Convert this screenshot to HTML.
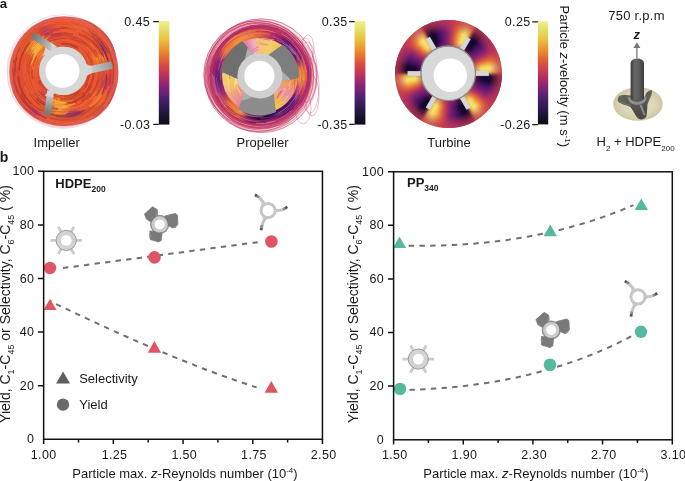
<!DOCTYPE html>
<html><head><meta charset="utf-8">
<style>
html,body{margin:0;padding:0;background:#fff;}
body{width:685px;height:481px;overflow:hidden;position:relative;}
svg{position:absolute;left:0;top:0;}

.cfd{position:absolute;border-radius:50%;}
#turbw{left:394.8px;top:20.2px;width:106.8px;height:108px;overflow:hidden;}
#turb{position:absolute;left:-5px;top:-5px;right:-5px;bottom:-5px;filter:blur(1.6px);
background:repeating-conic-gradient(from 30deg, #2a0845 0deg, #0c0620 9deg, #3e0e60 16deg, #6a1a70 24deg, #a02c68 32deg, #d04a48 37deg, #ec7a30 42deg, #f4c050 47deg, #f2f080 52deg, #f4cc50 56deg, #f0a040 60deg);}
#turb2{left:394.8px;top:20.2px;width:106.8px;height:108px;
background:radial-gradient(closest-side, rgba(160,40,100,0.5) 0%, rgba(160,40,100,0.4) 52%, rgba(160,40,100,0) 62%, rgba(194,56,82,0) 78%, rgba(194,56,82,0.35) 86%, rgba(194,56,82,0.65) 93%, rgba(196,58,80,0.85) 100%);}

#propo{left:203.4px;top:19.4px;width:113px;height:113px;
background:radial-gradient(closest-side, rgba(190,45,95,0.7) 0%, rgba(190,45,95,0.6) 84%, rgba(200,60,105,0.3) 91%, rgba(210,90,130,0.05) 100%);}
#propbw{left:211.4px;top:27.4px;width:97px;height:97px;overflow:hidden;}
#propb{position:absolute;left:-5px;top:-5px;right:-5px;bottom:-5px;filter:blur(1.5px);
background:radial-gradient(closest-side, rgba(200,50,100,0) 0%, rgba(200,50,100,0) 82%, rgba(196,50,100,0.45) 95%, rgba(196,50,100,0.6) 100%),
conic-gradient(#e06038 0deg, #b02a6a 20deg, #5a1272 40deg, #6a1670 65deg, #e87a30 82deg, #f09a30 95deg, #c03a60 110deg, #5a1476 125deg, #3a0c5a 160deg, #1e0838 180deg, #6a1a60 195deg, #f08a30 207deg, #e86a34 225deg, #9a2a70 245deg, #6a1a78 265deg, #8a2470 290deg, #e86a30 305deg, #f28a30 330deg, #e8703a 350deg, #e06038 360deg);}
#propg{left:221.9px;top:37.9px;width:76px;height:76px;
background:conic-gradient(#f4c070 0deg, #f2d060 18deg, #f0c050 36deg, #f09040 93deg, #f0a060 108deg, #ec90a0 124deg, #f0b050 140deg, #f4c850 156deg, #e880a0 213deg, #f0a080 235deg, #f4c858 255deg, #f2d060 276deg, #e8a0b0 300deg, #e070a0 333deg, #f0b0c0 350deg, #f4c070 360deg);}
text{font-family:"Liberation Sans",Arial,sans-serif;fill:#1a1a1a;}
</style></head>
<body>
<div class="cfd" id="propo"></div>
<div class="cfd" id="propbw"><div id="propb"></div></div>
<div class="cfd" id="propg"></div>
<div class="cfd" id="turbw"><div id="turb"></div></div>
<div class="cfd" id="turb2"></div>
<svg width="685" height="481" viewBox="0 0 685 481">
<defs>
<linearGradient id="inferno" x1="0" y1="1" x2="0" y2="0">
<stop offset="0" stop-color="#100a18"/><stop offset="0.05" stop-color="#161024"/><stop offset="0.14" stop-color="#281a48"/><stop offset="0.24" stop-color="#442068"/><stop offset="0.33" stop-color="#742278"/><stop offset="0.43" stop-color="#a42a6c"/><stop offset="0.51" stop-color="#c83a52"/><stop offset="0.57" stop-color="#d44a44"/><stop offset="0.65" stop-color="#e46c30"/><stop offset="0.72" stop-color="#ea9030"/><stop offset="0.82" stop-color="#eac040"/><stop offset="0.92" stop-color="#e4e068"/><stop offset="1" stop-color="#f0f090"/>
</linearGradient>
</defs>


<!-- IMPELLER -->
<clipPath id="impclip"><path d="M63.6,16.8 C95,16.5 113,35 116.5,58 C118.5,66 119.5,80 115,92 C108,115 88,126 63,126 C35,126 9,104 9.5,71 C10,44 30,17 63.6,16.8Z"/></clipPath>
<filter id="bl3" x="-50%" y="-50%" width="200%" height="200%"><feGaussianBlur stdDeviation="2.5"/></filter>
<g clip-path="url(#impclip)">
<rect x="0" y="10" width="125" height="125" fill="#e0542f"/>
<g filter="url(#bl3)">
<ellipse cx="37" cy="49" rx="8" ry="10" fill="#f3a034" transform="rotate(0 37 49)"/>
<ellipse cx="36" cy="46" rx="4" ry="5" fill="#f8c848" transform="rotate(0 36 46)"/>
<ellipse cx="100" cy="59" rx="7" ry="4.5" fill="#f08c30" transform="rotate(0 100 59)"/>
<ellipse cx="60" cy="107" rx="10" ry="8" fill="#f4a034" transform="rotate(0 60 107)"/>
<ellipse cx="56" cy="107" rx="4.5" ry="5" fill="#f8c440" transform="rotate(0 56 107)"/>
<ellipse cx="98" cy="98" rx="6" ry="7" fill="#ec7634" transform="rotate(0 98 98)"/>
<ellipse cx="80" cy="27" rx="14" ry="5" fill="#e45c38" transform="rotate(-10 80 27)"/>
<ellipse cx="52" cy="31" rx="10" ry="4" fill="#d0404e" transform="rotate(25 52 31)"/>
<ellipse cx="20" cy="80" rx="5" ry="18" fill="#de4e38" transform="rotate(0 20 80)"/>
<ellipse cx="108" cy="84" rx="5" ry="10" fill="#cd3c50" transform="rotate(0 108 84)"/>
<ellipse cx="102" cy="47" rx="1.5" ry="9" fill="#6a1a70" transform="rotate(-30 102 47)"/>
<ellipse cx="45" cy="32.5" rx="5" ry="2" fill="#7a1e6e" transform="rotate(20 45 32.5)"/>
<ellipse cx="73" cy="114.5" rx="8" ry="2.2" fill="#5a1a80" transform="rotate(-5 73 114.5)"/>
<ellipse cx="44" cy="99" rx="1.8" ry="8" fill="#a02870" transform="rotate(-10 44 99)"/>
<ellipse cx="35" cy="112" rx="4" ry="2" fill="#8a2470" transform="rotate(30 35 112)"/>
<ellipse cx="105" cy="80" rx="2" ry="6" fill="#b03a60" transform="rotate(10 105 80)"/>
</g>
<g fill="none" opacity="0.8"><path d="M54.8,102.1A32.1,32.1 0 0 1 39.4,92.2" stroke="#d1484d" stroke-width="1.1"/><path d="M40.2,34.9A43.2,43.2 0 0 1 59.5,29.0" stroke="#cf3f54" stroke-width="1.5"/><path d="M30.1,51.0A39.1,39.1 0 0 1 44.4,35.9" stroke="#ffc848" stroke-width="0.8"/><path d="M50.3,44.8A29.5,29.5 0 0 1 68.9,41.6" stroke="#b33429" stroke-width="0.7"/><path d="M37.7,111.3A47.7,47.7 0 0 1 24.5,100.3" stroke="#b1332b" stroke-width="0.8"/><path d="M43.0,33.6A42.8,42.8 0 0 1 60.9,27.2" stroke="#df4959" stroke-width="1.0"/><path d="M80.3,117.3A49.0,49.0 0 0 1 51.0,117.3" stroke="#ce4f2d" stroke-width="0.7"/><path d="M56.8,40.4A31.5,31.5 0 0 1 76.7,41.4" stroke="#f35b36" stroke-width="1.0"/><path d="M41.2,115.9A50.0,50.0 0 0 1 24.1,102.3" stroke="#b33a51" stroke-width="1.4"/><path d="M44.0,30.2A45.5,45.5 0 0 1 71.8,26.0" stroke="#eb5635" stroke-width="0.7"/><path d="M52.4,21.6A50.8,50.8 0 0 1 81.0,24.7" stroke="#ed5832" stroke-width="1.2"/><path d="M60.3,27.3A44.0,44.0 0 0 1 76.2,30.4" stroke="#b4362c" stroke-width="1.4"/><path d="M92.5,24.7A54.7,54.7 0 0 1 112.2,43.7" stroke="#e25430" stroke-width="0.6"/><path d="M82.8,103.8A37.8,37.8 0 0 1 70.4,108.8" stroke="#ee5d32" stroke-width="0.6"/><path d="M104.3,93.9A46.6,46.6 0 0 1 83.4,113.3" stroke="#d2572d" stroke-width="1.5"/><path d="M79.5,40.8A34.3,34.3 0 0 1 96.3,57.0" stroke="#b33429" stroke-width="1.5"/><path d="M97.2,74.0A33.7,33.7 0 0 1 86.1,95.7" stroke="#f46237" stroke-width="0.9"/><path d="M41.3,52.4A29.1,29.1 0 0 1 57.0,42.7" stroke="#f66c37" stroke-width="1.2"/><path d="M48.0,111.1A42.9,42.9 0 0 1 29.4,97.0" stroke="#f46137" stroke-width="1.0"/><path d="M110.1,67.6A46.6,46.6 0 0 1 108.3,84.6" stroke="#c4413b" stroke-width="1.1"/><path d="M76.5,93.0A25.3,25.3 0 0 1 54.6,94.5" stroke="#b53b29" stroke-width="1.1"/><path d="M42.0,90.6A29.0,29.0 0 0 1 34.3,74.7" stroke="#cf4d2c" stroke-width="0.9"/><path d="M17.5,74.7A46.2,46.2 0 0 1 16.7,63.0" stroke="#b2322c" stroke-width="0.6"/><path d="M37.6,96.2A36.1,36.1 0 0 1 29.6,81.5" stroke="#ed5832" stroke-width="0.9"/><path d="M88.8,94.6A34.4,34.4 0 0 1 68.8,106.1" stroke="#d04e2c" stroke-width="0.7"/><path d="M54.8,22.6A49.4,49.4 0 0 1 79.2,24.9" stroke="#c4392d" stroke-width="0.8"/><path d="M112.6,67.7A49.1,49.1 0 0 1 111.8,82.5" stroke="#dd4e37" stroke-width="0.7"/><path d="M50.1,30.4A43.0,43.0 0 0 1 74.5,29.8" stroke="#c3392f" stroke-width="1.4"/><path d="M89.3,86.8A30.1,30.1 0 0 1 70.1,100.4" stroke="#ed5832" stroke-width="0.8"/><path d="M58.3,99.3A28.6,28.6 0 0 1 44.4,93.7" stroke="#f66b37" stroke-width="1.1"/><path d="M106.6,98.5A50.9,50.9 0 0 1 86.5,117.7" stroke="#b43629" stroke-width="0.9"/><path d="M91.5,78.7A28.9,28.9 0 0 1 73.9,98.1" stroke="#cf4d2c" stroke-width="1.2"/><path d="M49.6,101.9A33.7,33.7 0 0 1 40.7,94.5" stroke="#a2296d" stroke-width="0.6"/><path d="M27.1,32.4A53.3,53.3 0 0 1 54.6,18.5" stroke="#df5133" stroke-width="1.5"/><path d="M73.0,25.6A46.5,46.5 0 0 1 91.7,33.5" stroke="#f5683e" stroke-width="1.1"/><path d="M91.9,89.4A33.7,33.7 0 0 1 81.3,101.1" stroke="#b43529" stroke-width="1.5"/><path d="M92.2,70.2A28.6,28.6 0 0 1 90.8,81.9" stroke="#f46037" stroke-width="1.4"/><path d="M33.0,29.3A51.9,51.9 0 0 1 53.7,20.3" stroke="#b1322e" stroke-width="0.7"/><path d="M103.6,68.4A40.1,40.1 0 0 1 102.5,79.7" stroke="#de4e42" stroke-width="1.4"/><path d="M100.0,94.7A43.4,43.4 0 0 1 89.0,106.5" stroke="#fb7a3a" stroke-width="1.3"/><path d="M90.0,66.3A26.8,26.8 0 0 1 88.0,79.3" stroke="#f46037" stroke-width="0.8"/><path d="M42.4,45.7A33.2,33.2 0 0 1 54.3,39.3" stroke="#b53929" stroke-width="1.1"/><path d="M26.6,69.7A37.0,37.0 0 0 1 30.6,54.2" stroke="#ee5c32" stroke-width="1.0"/><path d="M25.0,64.7A39.2,39.2 0 0 1 27.5,53.9" stroke="#b43629" stroke-width="0.6"/><path d="M66.5,97.5A26.5,26.5 0 0 1 55.4,95.1" stroke="#f97436" stroke-width="1.1"/><path d="M95.3,84.8A34.5,34.5 0 0 1 83.9,98.6" stroke="#f56235" stroke-width="0.9"/><path d="M61.1,38.3A32.9,32.9 0 0 1 80.2,42.5" stroke="#c3392d" stroke-width="1.2"/><path d="M81.1,39.3A36.4,36.4 0 0 1 92.1,48.8" stroke="#cf4d2c" stroke-width="1.2"/><path d="M32.4,98.1A41.2,41.2 0 0 1 27.2,87.6" stroke="#e15330" stroke-width="1.2"/><path d="M107.5,90.2A47.8,47.8 0 0 1 87.6,112.4" stroke="#e76832" stroke-width="0.8"/><path d="M24.9,85.1A41.1,41.1 0 0 1 23.4,72.9" stroke="#df4f35" stroke-width="0.7"/><path d="M86.6,83.0A25.8,25.8 0 0 1 61.1,97.8" stroke="#ed5832" stroke-width="0.8"/><path d="M90.8,43.4A38.9,38.9 0 0 1 103.4,67.7" stroke="#fa7734" stroke-width="1.1"/><path d="M86.5,43.0A36.3,36.3 0 0 1 95.8,57.3" stroke="#ed5832" stroke-width="1.1"/><path d="M83.3,55.6A25.1,25.1 0 0 1 86.9,81.0" stroke="#b33429" stroke-width="1.1"/><path d="M95.1,103.0A44.8,44.8 0 0 1 71.0,116.4" stroke="#c64931" stroke-width="0.7"/><path d="M19.0,94.5A50.3,50.3 0 0 1 13.2,67.3" stroke="#ce4b2e" stroke-width="1.3"/><path d="M37.7,68.4A26.1,26.1 0 0 1 48.5,50.9" stroke="#fa7936" stroke-width="1.1"/><path d="M54.4,97.6A28.0,28.0 0 0 1 38.1,83.3" stroke="#e1534a" stroke-width="1.3"/><path d="M92.8,57.4A32.3,32.3 0 0 1 96.4,73.1" stroke="#ef6132" stroke-width="1.4"/><path d="M44.5,97.6A32.6,32.6 0 0 1 31.3,71.9" stroke="#ed5832" stroke-width="0.7"/><path d="M56.9,31.8A40.0,40.0 0 0 1 76.5,31.8" stroke="#f45e38" stroke-width="1.0"/><path d="M43.4,108.1A42.1,42.1 0 0 1 24.3,86.0" stroke="#f45c34" stroke-width="1.2"/><path d="M105.5,40.5A51.9,51.9 0 0 1 111.7,51.8" stroke="#f45c34" stroke-width="1.2"/><path d="M35.9,117.0A53.5,53.5 0 0 1 17.1,96.3" stroke="#c3382d" stroke-width="0.8"/><path d="M102.7,88.1A42.6,42.6 0 0 1 94.0,101.1" stroke="#fc7a39" stroke-width="1.3"/><path d="M28.0,43.5A45.1,45.1 0 0 1 46.1,29.3" stroke="#f06633" stroke-width="0.8"/><path d="M68.2,40.0A31.5,31.5 0 0 1 85.7,50.0" stroke="#e15330" stroke-width="1.1"/><path d="M67.1,103.2A32.2,32.2 0 0 1 39.9,95.1" stroke="#ed8735" stroke-width="1.0"/><path d="M72.2,113.3A43.0,43.0 0 0 1 44.6,110.3" stroke="#fb963e" stroke-width="0.6"/><path d="M87.7,22.0A54.8,54.8 0 0 1 110.5,41.6" stroke="#f46037" stroke-width="1.5"/><path d="M102.3,66.2A39.0,39.0 0 0 1 101.9,82.1" stroke="#eb563e" stroke-width="0.7"/><path d="M95.1,72.0A31.5,31.5 0 0 1 81.5,96.3" stroke="#f46137" stroke-width="0.8"/><path d="M27.8,42.1A46.1,46.1 0 0 1 52.3,27.5" stroke="#bf4737" stroke-width="0.6"/><path d="M80.1,45.5A30.5,30.5 0 0 1 92.7,68.2" stroke="#b43629" stroke-width="1.4"/><path d="M90.1,92.2A33.8,33.8 0 0 1 71.0,103.6" stroke="#f45c34" stroke-width="0.6"/><path d="M87.6,96.6A34.9,34.9 0 0 1 77.2,103.7" stroke="#f45c34" stroke-width="1.5"/><path d="M53.5,106.5A36.7,36.7 0 0 1 42.3,99.5" stroke="#c14d3d" stroke-width="1.0"/><path d="M57.0,108.8A38.2,38.2 0 0 1 41.5,103.9" stroke="#f37e38" stroke-width="0.9"/><path d="M15.5,69.0A48.2,48.2 0 0 1 18.8,52.3" stroke="#f35b36" stroke-width="1.4"/><path d="M94.5,32.5A49.5,49.5 0 0 1 111.6,57.1" stroke="#cb4b2e" stroke-width="1.1"/><path d="M64.7,99.6A28.4,28.4 0 0 1 47.9,94.1" stroke="#fb7c37" stroke-width="1.3"/><path d="M26.1,100.0A47.3,47.3 0 0 1 17.6,76.1" stroke="#c13532" stroke-width="1.4"/><path d="M94.8,39.3A44.7,44.7 0 0 1 109.2,65.5" stroke="#7c1e56" stroke-width="1.2"/><path d="M85.0,110.2A44.5,44.5 0 0 1 68.8,115.3" stroke="#6c1c64" stroke-width="0.9"/><path d="M76.3,43.7A30.3,30.3 0 0 1 92.7,62.4" stroke="#f46037" stroke-width="1.1"/><path d="M85.2,41.4A36.8,36.8 0 0 1 96.9,53.3" stroke="#b33429" stroke-width="0.6"/><path d="M103.7,70.5A40.1,40.1 0 0 1 96.5,96.1" stroke="#bf423e" stroke-width="1.5"/><path d="M27.8,57.2A38.4,38.4 0 0 1 33.3,45.9" stroke="#eb7f33" stroke-width="0.7"/><path d="M83.0,44.4A33.1,33.1 0 0 1 93.0,53.4" stroke="#f46037" stroke-width="0.7"/><path d="M44.8,113.1A45.9,45.9 0 0 1 25.2,98.1" stroke="#dd5133" stroke-width="1.3"/><path d="M97.6,45.3A42.8,42.8 0 0 1 105.6,62.6" stroke="#b73c35" stroke-width="0.8"/><path d="M41.3,50.6A30.4,30.4 0 0 1 57.4,42.9" stroke="#d1552c" stroke-width="1.3"/><path d="M47.4,22.1A51.7,51.7 0 0 1 66.0,18.3" stroke="#ed5832" stroke-width="0.9"/><path d="M56.3,110.5A39.9,39.9 0 0 1 34.0,98.8" stroke="#d75056" stroke-width="0.6"/><path d="M40.7,91.7A30.7,30.7 0 0 1 33.8,80.4" stroke="#f36037" stroke-width="1.0"/><path d="M73.6,110.7A40.7,40.7 0 0 1 58.9,110.8" stroke="#df6f41" stroke-width="1.3"/><path d="M46.3,21.3A52.8,52.8 0 0 1 59.1,17.2" stroke="#cf4d2c" stroke-width="1.4"/><path d="M35.6,63.6A29.1,29.1 0 0 1 50.6,46.8" stroke="#bd572c" stroke-width="1.2"/><path d="M64.0,111.4A40.2,40.2 0 0 1 52.9,109.4" stroke="#df9934" stroke-width="1.4"/><path d="M97.9,40.7A45.8,45.8 0 0 1 110.0,66.3" stroke="#a53759" stroke-width="0.6"/><path d="M62.6,43.8A27.4,27.4 0 0 1 89.3,58.4" stroke="#c3392c" stroke-width="1.4"/><path d="M25.5,69.6A38.1,38.1 0 0 1 31.2,49.5" stroke="#b43829" stroke-width="1.0"/><path d="M15.2,85.0A50.4,50.4 0 0 1 12.9,66.1" stroke="#e15231" stroke-width="1.1"/><path d="M33.2,93.5A37.7,37.7 0 0 1 26.6,77.8" stroke="#e15330" stroke-width="1.2"/><path d="M74.2,107.9A38.2,38.2 0 0 1 62.6,108.9" stroke="#d56c2e" stroke-width="0.9"/><path d="M40.3,104.8A40.9,40.9 0 0 1 28.7,94.2" stroke="#b33429" stroke-width="0.8"/><path d="M35.1,49.0A36.1,36.1 0 0 1 53.1,37.6" stroke="#c94d2f" stroke-width="0.8"/><path d="M95.9,53.0A37.1,37.1 0 0 1 100.3,63.7" stroke="#be5429" stroke-width="1.0"/><path d="M38.0,54.6A30.5,30.5 0 0 1 52.8,42.9" stroke="#d76e2e" stroke-width="1.2"/><path d="M78.7,93.0A26.5,26.5 0 0 1 60.5,98.8" stroke="#b43829" stroke-width="1.4"/><path d="M84.3,95.9A32.2,32.2 0 0 1 71.2,102.9" stroke="#d04e2c" stroke-width="0.9"/><path d="M72.8,44.0A28.7,28.7 0 0 1 92.0,61.0" stroke="#cf4d2c" stroke-width="1.4"/><path d="M52.0,23.9A48.7,48.7 0 0 1 72.7,24.1" stroke="#ed5832" stroke-width="1.3"/><path d="M99.9,95.8A43.9,43.9 0 0 1 91.1,105.1" stroke="#fc7938" stroke-width="0.7"/><path d="M90.2,36.8A43.5,43.5 0 0 1 103.7,57.0" stroke="#8c253f" stroke-width="0.6"/><path d="M41.6,86.3A26.6,26.6 0 0 1 39.2,57.8" stroke="#c4392c" stroke-width="1.3"/><path d="M68.3,106.1A35.2,35.2 0 0 1 51.0,102.6" stroke="#ffc841" stroke-width="0.9"/><path d="M49.4,30.4A43.2,43.2 0 0 1 61.9,29.0" stroke="#c7433a" stroke-width="1.0"/><path d="M51.8,109.7A40.2,40.2 0 0 1 32.6,98.8" stroke="#ea5c41" stroke-width="0.8"/><path d="M16.6,76.0A47.2,47.2 0 0 1 22.4,49.0" stroke="#ec5634" stroke-width="0.8"/><path d="M82.1,116.6A49.1,49.1 0 0 1 62.5,120.2" stroke="#eb5a3a" stroke-width="0.8"/><path d="M34.0,76.7A30.1,30.1 0 0 1 38.1,54.1" stroke="#f56235" stroke-width="1.5"/><path d="M86.8,58.8A26.3,26.3 0 0 1 86.4,84.0" stroke="#f46037" stroke-width="1.3"/><path d="M89.6,34.1A45.3,45.3 0 0 1 101.5,44.7" stroke="#dc5444" stroke-width="0.7"/><path d="M76.5,29.8A43.4,43.4 0 0 1 94.5,39.7" stroke="#f46138" stroke-width="0.9"/><path d="M79.4,38.7A36.1,36.1 0 0 1 93.2,51.5" stroke="#b33429" stroke-width="0.9"/><path d="M29.0,54.4A38.5,38.5 0 0 1 39.1,43.3" stroke="#ffc045" stroke-width="0.7"/><path d="M40.9,109.3A44.3,44.3 0 0 1 32.5,101.9" stroke="#c3382d" stroke-width="0.8"/><path d="M58.7,121.5A50.5,50.5 0 0 1 38.8,114.6" stroke="#ed5a32" stroke-width="1.4"/><path d="M73.4,118.7A48.5,48.5 0 0 1 49.7,118.6" stroke="#b3382a" stroke-width="0.7"/><path d="M58.2,46.1A25.7,25.7 0 0 1 72.6,48.4" stroke="#cf4d2c" stroke-width="1.0"/><path d="M35.8,56.0A31.7,31.7 0 0 1 53.4,41.2" stroke="#ff9039" stroke-width="1.2"/><path d="M90.0,108.9A46.0,46.0 0 0 1 67.1,115.9" stroke="#a23b6a" stroke-width="1.4"/><path d="M24.3,54.2A42.8,42.8 0 0 1 33.7,42.6" stroke="#f37234" stroke-width="0.9"/><path d="M100.8,95.3A44.3,44.3 0 0 1 89.9,105.2" stroke="#fc7e3a" stroke-width="1.1"/><path d="M85.5,112.8A47.1,47.1 0 0 1 62.2,118.3" stroke="#af3f56" stroke-width="0.8"/><path d="M82.8,24.9A50.1,50.1 0 0 1 95.4,34.1" stroke="#e25733" stroke-width="0.8"/><path d="M51.0,44.0A30.0,30.0 0 0 1 76.5,42.9" stroke="#f35f38" stroke-width="1.3"/><path d="M25.8,80.6A38.9,38.9 0 0 1 28.0,52.4" stroke="#cf4c2d" stroke-width="1.4"/><path d="M68.9,124.4A53.5,53.5 0 0 1 42.7,120.3" stroke="#e25430" stroke-width="1.1"/><path d="M56.7,46.1A26.0,26.0 0 0 1 67.7,46.9" stroke="#b33429" stroke-width="0.7"/><path d="M78.7,34.0A40.1,40.1 0 0 1 95.6,45.8" stroke="#c3392c" stroke-width="0.8"/><path d="M95.0,92.5A38.0,38.0 0 0 1 74.6,108.4" stroke="#f45d34" stroke-width="0.7"/><path d="M42.8,39.0A38.3,38.3 0 0 1 61.7,34.0" stroke="#ac2c44" stroke-width="1.3"/><path d="M56.8,25.7A46.0,46.0 0 0 1 86.5,31.7" stroke="#f5613a" stroke-width="0.7"/><path d="M71.5,104.6A34.4,34.4 0 0 1 50.5,102.1" stroke="#ffb43b" stroke-width="1.5"/><path d="M69.8,38.1A33.7,33.7 0 0 1 86.9,45.6" stroke="#cf4d2c" stroke-width="0.9"/><path d="M33.3,59.9A32.3,32.3 0 0 1 38.7,50.1" stroke="#ce5f30" stroke-width="0.7"/><path d="M55.7,46.8A25.6,25.6 0 0 1 66.7,44.9" stroke="#f46037" stroke-width="0.9"/><path d="M104.6,106.3A54.0,54.0 0 0 1 86.6,119.0" stroke="#e25430" stroke-width="0.6"/><path d="M95.9,91.2A38.0,38.0 0 0 1 88.6,101.0" stroke="#f16734" stroke-width="1.0"/><path d="M34.6,86.7A32.9,32.9 0 0 1 31.8,66.3" stroke="#f45c34" stroke-width="0.6"/><path d="M36.4,97.6A37.9,37.9 0 0 1 25.0,75.7" stroke="#f36037" stroke-width="0.8"/><path d="M34.6,69.7A29.1,29.1 0 0 1 47.1,46.3" stroke="#f78335" stroke-width="0.9"/><path d="M66.6,42.3A29.0,29.0 0 0 1 78.1,45.6" stroke="#e15330" stroke-width="1.4"/><path d="M74.2,122.3A52.2,52.2 0 0 1 49.6,122.4" stroke="#f46237" stroke-width="1.1"/><path d="M59.3,108.4A37.4,37.4 0 0 1 46.2,102.9" stroke="#d27036" stroke-width="0.7"/><path d="M93.4,31.1A50.0,50.0 0 0 1 109.6,52.0" stroke="#de5231" stroke-width="1.3"/><path d="M53.8,33.9A38.6,38.6 0 0 1 67.8,33.9" stroke="#c94637" stroke-width="0.6"/><path d="M102.9,66.4A39.6,39.6 0 0 1 100.5,86.5" stroke="#da4c46" stroke-width="0.6"/><path d="M50.6,111.4A42.2,42.2 0 0 1 32.4,101.0" stroke="#ce4e2e" stroke-width="1.3"/><path d="M76.7,101.5A33.0,33.0 0 0 1 64.5,104.3" stroke="#b7412a" stroke-width="1.4"/><path d="M21.4,104.6A53.8,53.8 0 0 1 14.7,91.3" stroke="#cf4b2d" stroke-width="0.9"/><path d="M109.2,91.3A49.8,49.8 0 0 1 101.1,106.0" stroke="#b4382c" stroke-width="0.9"/><path d="M99.6,78.5A36.8,36.8 0 0 1 94.3,91.0" stroke="#cf4d2d" stroke-width="1.4"/><path d="M52.9,32.8A39.9,39.9 0 0 1 78.5,34.1" stroke="#f35d38" stroke-width="1.3"/><path d="M26.8,105.3A50.1,50.1 0 0 1 13.1,81.2" stroke="#b2322c" stroke-width="1.5"/><path d="M82.8,112.8A45.8,45.8 0 0 1 52.6,114.9" stroke="#a63f53" stroke-width="1.1"/><path d="M89.9,68.9A26.4,26.4 0 0 1 75.8,93.4" stroke="#c3392c" stroke-width="1.2"/><path d="M72.9,115.9A45.7,45.7 0 0 1 54.2,114.8" stroke="#a23636" stroke-width="0.6"/><path d="M106.3,49.8A47.8,47.8 0 0 1 109.7,64.1" stroke="#e56140" stroke-width="0.7"/><path d="M96.8,47.7A40.7,40.7 0 0 1 102.0,61.9" stroke="#f97a37" stroke-width="1.0"/><path d="M117.2,81.7A54.6,54.6 0 0 1 112.4,94.4" stroke="#c13730" stroke-width="0.9"/><path d="M31.4,113.5A53.1,53.1 0 0 1 12.5,90.0" stroke="#b3332a" stroke-width="1.5"/><path d="M118.0,69.8A54.4,54.4 0 0 1 114.3,87.4" stroke="#e15331" stroke-width="1.4"/><path d="M24.5,73.8A39.2,39.2 0 0 1 28.3,52.3" stroke="#f36038" stroke-width="1.1"/><path d="M54.4,109.0A38.9,38.9 0 0 1 37.0,99.5" stroke="#c94356" stroke-width="0.9"/><path d="M109.4,84.7A47.7,47.7 0 0 1 94.9,105.9" stroke="#f5663a" stroke-width="1.5"/><path d="M107.3,46.4A50.2,50.2 0 0 1 111.8,62.0" stroke="#c33a2d" stroke-width="1.1"/><path d="M46.0,91.3A26.7,26.7 0 0 1 39.5,78.8" stroke="#e85536" stroke-width="1.4"/><path d="M61.0,22.4A48.8,48.8 0 0 1 85.5,26.9" stroke="#ee5b35" stroke-width="0.8"/><path d="M44.7,105.2A38.9,38.9 0 0 1 31.4,93.6" stroke="#ed5832" stroke-width="0.9"/><path d="M92.3,99.4A40.2,40.2 0 0 1 78.0,109.4" stroke="#d04d2c" stroke-width="1.3"/><path d="M102.4,97.2A46.7,46.7 0 0 1 83.3,112.8" stroke="#d1522c" stroke-width="1.5"/><path d="M86.7,47.5A33.1,33.1 0 0 1 97.8,65.8" stroke="#f86d34" stroke-width="1.3"/><path d="M76.5,101.0A32.5,32.5 0 0 1 60.5,103.4" stroke="#c94d2e" stroke-width="1.1"/><path d="M59.3,20.1A51.2,51.2 0 0 1 81.2,21.5" stroke="#e25430" stroke-width="0.6"/><path d="M52.0,106.9A37.5,37.5 0 0 1 34.4,92.6" stroke="#bf433c" stroke-width="1.4"/><path d="M59.3,34.9A36.5,36.5 0 0 1 76.9,38.6" stroke="#c3392e" stroke-width="1.0"/><path d="M35.2,74.4A28.5,28.5 0 0 1 39.7,56.4" stroke="#ee5e32" stroke-width="0.9"/><path d="M87.4,103.5A40.2,40.2 0 0 1 70.5,111.3" stroke="#f35d35" stroke-width="0.7"/><path d="M99.3,88.9A39.9,39.9 0 0 1 93.4,98.2" stroke="#b8422b" stroke-width="0.7"/><path d="M88.4,83.0A27.4,27.4 0 0 1 76.4,93.8" stroke="#b33429" stroke-width="1.3"/><path d="M75.4,103.5A34.4,34.4 0 0 1 57.0,106.0" stroke="#ff9337" stroke-width="1.4"/><path d="M28.8,87.0A38.2,38.2 0 0 1 26.3,73.9" stroke="#e15231" stroke-width="0.7"/><path d="M52.5,103.5A34.2,34.2 0 0 1 40.8,97.1" stroke="#a82d4a" stroke-width="0.7"/><path d="M84.4,86.6A25.8,25.8 0 0 1 76.8,95.1" stroke="#f46037" stroke-width="1.0"/><path d="M91.6,62.8A29.2,29.2 0 0 1 89.1,86.2" stroke="#ed5832" stroke-width="1.2"/><path d="M85.4,40.0A38.1,38.1 0 0 1 102.4,65.4" stroke="#f56034" stroke-width="0.7"/><path d="M12.3,72.5A51.3,51.3 0 0 1 16.2,55.7" stroke="#f36037" stroke-width="1.0"/><path d="M40.4,41.5A37.7,37.7 0 0 1 66.5,33.2" stroke="#bd3f3f" stroke-width="1.4"/><path d="M92.1,85.2A31.8,31.8 0 0 1 74.1,99.8" stroke="#b33429" stroke-width="1.1"/><path d="M60.7,123.2A52.1,52.1 0 0 1 45.6,118.8" stroke="#f46237" stroke-width="0.8"/><path d="M33.1,46.8A39.1,39.1 0 0 1 51.0,34.7" stroke="#d5682e" stroke-width="1.0"/><path d="M116.8,63.3A53.8,53.8 0 0 1 116.6,86.1" stroke="#cf4c2c" stroke-width="0.7"/><path d="M35.6,101.1A40.9,40.9 0 0 1 24.4,86.5" stroke="#f36037" stroke-width="1.1"/><path d="M56.1,117.3A46.7,46.7 0 0 1 37.6,109.7" stroke="#f36136" stroke-width="0.9"/><path d="M41.3,49.9A30.8,30.8 0 0 1 54.6,43.0" stroke="#f77038" stroke-width="1.0"/><path d="M63.2,124.0A52.8,52.8 0 0 1 36.9,115.7" stroke="#d04e2c" stroke-width="0.6"/><path d="M90.2,101.1A40.0,40.0 0 0 1 64.3,111.8" stroke="#f26238" stroke-width="0.8"/><path d="M99.1,65.2A36.0,36.0 0 0 1 97.3,81.6" stroke="#cf4c2d" stroke-width="1.2"/><path d="M86.2,44.2A35.2,35.2 0 0 1 94.7,56.9" stroke="#e25430" stroke-width="0.8"/><path d="M101.8,61.2A39.5,39.5 0 0 1 99.6,88.2" stroke="#c44538" stroke-width="0.8"/><path d="M92.9,108.6A47.5,47.5 0 0 1 72.9,116.8" stroke="#d34d41" stroke-width="0.9"/><path d="M80.8,39.3A36.2,36.2 0 0 1 95.9,54.8" stroke="#e25430" stroke-width="1.1"/><path d="M43.9,44.6A33.1,33.1 0 0 1 67.5,38.7" stroke="#c13730" stroke-width="1.1"/><path d="M85.6,104.1A39.6,39.6 0 0 1 63.3,109.8" stroke="#f0663b" stroke-width="1.2"/><path d="M28.7,75.1A35.2,35.2 0 0 1 33.8,53.3" stroke="#b43629" stroke-width="0.7"/><path d="M39.0,94.5A33.9,33.9 0 0 1 32.0,82.5" stroke="#e15330" stroke-width="0.6"/><path d="M37.1,94.7A35.4,35.4 0 0 1 27.5,73.2" stroke="#f35c34" stroke-width="1.1"/><path d="M42.2,44.6A34.1,34.1 0 0 1 69.4,38.2" stroke="#e85339" stroke-width="1.0"/><path d="M20.7,101.9A52.7,52.7 0 0 1 10.4,74.1" stroke="#e15231" stroke-width="1.3"/><path d="M68.3,106.4A35.5,35.5 0 0 1 46.8,101.8" stroke="#d6833b" stroke-width="0.8"/><path d="M14.9,82.7A50.0,50.0 0 0 1 14.5,65.3" stroke="#c3382e" stroke-width="1.3"/><path d="M82.2,95.0A30.2,30.2 0 0 1 68.6,101.1" stroke="#e25630" stroke-width="0.9"/><path d="M34.6,107.8A46.7,46.7 0 0 1 19.9,87.6" stroke="#c3382d" stroke-width="0.8"/><path d="M57.1,98.4A28.0,28.0 0 0 1 36.4,78.7" stroke="#dd504e" stroke-width="0.9"/><path d="M67.9,104.2A33.2,33.2 0 0 1 43.5,99.3" stroke="#d37637" stroke-width="0.7"/><path d="M71.4,124.1A53.4,53.4 0 0 1 51.7,122.9" stroke="#d04d2c" stroke-width="1.2"/><path d="M31.3,65.0A32.9,32.9 0 0 1 49.4,42.4" stroke="#ffbd41" stroke-width="1.5"/><path d="M15.1,76.3A48.7,48.7 0 0 1 19.9,47.3" stroke="#b3332a" stroke-width="0.7"/><path d="M60.9,43.8A27.5,27.5 0 0 1 77.7,48.2" stroke="#b33429" stroke-width="1.3"/><path d="M37.6,86.1A30.0,30.0 0 0 1 34.8,70.3" stroke="#ed5832" stroke-width="1.4"/><path d="M80.3,105.6A38.2,38.2 0 0 1 58.4,108.9" stroke="#f17535" stroke-width="1.3"/><path d="M54.6,102.7A32.7,32.7 0 0 1 37.3,88.9" stroke="#a42b6b" stroke-width="0.6"/><path d="M64.0,33.3A37.9,37.9 0 0 1 88.8,42.8" stroke="#c4392d" stroke-width="1.5"/><path d="M13.7,78.3A50.4,50.4 0 0 1 14.1,59.8" stroke="#b3332a" stroke-width="1.1"/><path d="M105.6,105.1A54.0,54.0 0 0 1 96.8,115.5" stroke="#c43a2d" stroke-width="1.3"/><path d="M24.2,74.1A39.5,39.5 0 0 1 26.1,60.3" stroke="#ec5635" stroke-width="1.3"/><path d="M110.4,73.9A46.9,46.9 0 0 1 109.1,86.7" stroke="#a52840" stroke-width="0.7"/><path d="M76.1,49.3A25.2,25.2 0 0 1 89.4,71.8" stroke="#e25530" stroke-width="1.1"/><path d="M79.4,113.2A44.9,44.9 0 0 1 65.1,114.6" stroke="#69228d" stroke-width="0.9"/><path d="M104.0,49.3A46.0,46.0 0 0 1 108.9,59.9" stroke="#bd474d" stroke-width="1.4"/><path d="M73.4,36.7A35.9,35.9 0 0 1 87.4,43.2" stroke="#b33429" stroke-width="1.0"/><path d="M103.5,92.0A45.0,45.0 0 0 1 93.5,103.8" stroke="#eb7334" stroke-width="0.6"/><path d="M89.9,54.0A31.4,31.4 0 0 1 94.5,72.0" stroke="#e66430" stroke-width="1.1"/><path d="M39.8,105.1A41.4,41.4 0 0 1 28.6,92.7" stroke="#b33429" stroke-width="1.1"/><path d="M72.6,101.6A31.7,31.7 0 0 1 51.3,101.3" stroke="#ffa239" stroke-width="1.1"/><path d="M18.9,75.3A44.9,44.9 0 0 1 21.7,53.9" stroke="#e05133" stroke-width="1.3"/><path d="M72.6,100.2A30.3,30.3 0 0 1 50.8,100.1" stroke="#db7d2f" stroke-width="1.1"/><path d="M80.0,111.7A43.7,43.7 0 0 1 66.8,113.8" stroke="#671f81" stroke-width="0.9"/><path d="M101.8,31.6A55.0,55.0 0 0 1 114.7,48.5" stroke="#e15430" stroke-width="1.3"/><path d="M69.7,23.5A48.1,48.1 0 0 1 80.3,27.7" stroke="#ee5d37" stroke-width="1.2"/><path d="M35.1,28.8A51.1,51.1 0 0 1 45.9,23.9" stroke="#ef573b" stroke-width="1.3"/><path d="M24.5,64.1A39.7,39.7 0 0 1 37.7,40.6" stroke="#d66b2e" stroke-width="0.7"/><path d="M78.3,19.3A53.9,53.9 0 0 1 103.3,35.9" stroke="#c43b30" stroke-width="0.7"/><path d="M26.9,71.6A36.7,36.7 0 0 1 35.0,47.5" stroke="#c5402d" stroke-width="0.7"/><path d="M60.1,116.3A45.2,45.2 0 0 1 32.6,104.1" stroke="#b1362c" stroke-width="0.9"/><path d="M84.1,36.9A40.0,40.0 0 0 1 100.3,55.0" stroke="#cf4d2c" stroke-width="1.0"/><path d="M40.4,102.5A39.0,39.0 0 0 1 32.3,94.3" stroke="#cf4d2c" stroke-width="1.2"/><path d="M15.0,71.9A48.6,48.6 0 0 1 16.7,56.8" stroke="#b3332a" stroke-width="1.3"/><path d="M71.4,124.3A53.7,53.7 0 0 1 56.3,124.7" stroke="#d04d2c" stroke-width="1.2"/><path d="M80.1,18.8A54.9,54.9 0 0 1 96.5,28.4" stroke="#e25733" stroke-width="0.7"/><path d="M63.3,101.6A30.4,30.4 0 0 1 47.8,97.4" stroke="#ec8635" stroke-width="0.9"/><path d="M73.0,34.5A37.9,37.9 0 0 1 93.9,48.9" stroke="#f46037" stroke-width="1.4"/><path d="M57.6,107.5A36.7,36.7 0 0 1 44.3,103.4" stroke="#ce6133" stroke-width="0.6"/><path d="M32.7,50.2A37.4,37.4 0 0 1 50.8,36.1" stroke="#ec8836" stroke-width="0.9"/><path d="M80.0,107.8A40.1,40.1 0 0 1 65.4,109.9" stroke="#d45839" stroke-width="1.1"/><path d="M67.7,41.6A29.8,29.8 0 0 1 87.6,51.9" stroke="#f45c34" stroke-width="1.2"/><path d="M105.0,36.0A54.4,54.4 0 0 1 115.7,60.1" stroke="#b33429" stroke-width="1.1"/><path d="M115.1,85.5A53.4,53.4 0 0 1 100.6,109.5" stroke="#df5233" stroke-width="0.7"/><path d="M36.0,56.1A31.5,31.5 0 0 1 49.9,42.5" stroke="#dc8631" stroke-width="1.1"/><path d="M55.6,95.8A25.9,25.9 0 0 1 40.0,80.3" stroke="#cc4a2f" stroke-width="0.9"/><path d="M116.8,82.0A54.3,54.3 0 0 1 112.1,93.8" stroke="#de5034" stroke-width="0.8"/><path d="M116.3,64.3A53.1,53.1 0 0 1 112.2,93.1" stroke="#ce4b2e" stroke-width="1.3"/><path d="M111.8,58.0A50.0,50.0 0 0 1 112.1,83.6" stroke="#b2332a" stroke-width="0.9"/><path d="M43.4,25.3A50.1,50.1 0 0 1 69.2,21.1" stroke="#f36037" stroke-width="1.3"/><path d="M97.8,80.1A35.3,35.3 0 0 1 89.9,96.5" stroke="#c53c2d" stroke-width="1.4"/><path d="M91.5,40.2A41.7,41.7 0 0 1 102.7,56.2" stroke="#ad322c" stroke-width="1.0"/><path d="M26.3,51.2A42.3,42.3 0 0 1 40.2,34.4" stroke="#ef953a" stroke-width="0.9"/><path d="M91.5,36.0A44.9,44.9 0 0 1 107.8,60.0" stroke="#6f1c6d" stroke-width="1.3"/><path d="M111.8,67.5A48.4,48.4 0 0 1 107.0,93.1" stroke="#de4748" stroke-width="0.6"/><path d="M106.1,99.6A51.1,51.1 0 0 1 95.6,109.3" stroke="#d2552d" stroke-width="1.3"/><path d="M81.5,31.9A43.2,43.2 0 0 1 101.6,52.0" stroke="#eb5733" stroke-width="1.0"/><path d="M82.0,115.9A48.4,48.4 0 0 1 56.1,117.5" stroke="#d75236" stroke-width="1.3"/><path d="M35.0,49.2A36.1,36.1 0 0 1 47.7,38.7" stroke="#ffa940" stroke-width="1.4"/><path d="M91.3,94.6A36.3,36.3 0 0 1 76.8,106.3" stroke="#b33429" stroke-width="0.9"/><path d="M54.3,112.1A41.9,41.9 0 0 1 43.6,108.8" stroke="#b6442c" stroke-width="0.8"/><path d="M99.5,30.3A54.4,54.4 0 0 1 115.9,53.7" stroke="#c3392c" stroke-width="1.5"/><path d="M89.7,93.6A34.4,34.4 0 0 1 81.8,101.6" stroke="#c4392c" stroke-width="1.4"/><path d="M81.4,19.8A54.4,54.4 0 0 1 98.0,28.5" stroke="#b4362c" stroke-width="1.1"/><path d="M67.0,106.5A35.5,35.5 0 0 1 55.8,106.3" stroke="#f4aa37" stroke-width="1.4"/><path d="M83.7,35.0A41.5,41.5 0 0 1 102.9,56.4" stroke="#b23429" stroke-width="0.8"/><path d="M77.6,46.8A28.1,28.1 0 0 1 88.5,60.2" stroke="#f46037" stroke-width="1.2"/><path d="M61.9,97.3A26.1,26.1 0 0 1 39.5,80.0" stroke="#c3392d" stroke-width="1.0"/><path d="M114.9,89.2A54.4,54.4 0 0 1 107.4,105.2" stroke="#b1322c" stroke-width="1.2"/><path d="M67.8,27.0A44.4,44.4 0 0 1 91.2,37.8" stroke="#e35935" stroke-width="1.4"/><path d="M58.3,109.2A38.4,38.4 0 0 1 36.3,98.7" stroke="#b13443" stroke-width="1.4"/><path d="M38.8,94.6A34.1,34.1 0 0 1 33.0,83.7" stroke="#f46037" stroke-width="1.4"/><path d="M87.9,100.6A38.1,38.1 0 0 1 68.4,109.1" stroke="#f45e34" stroke-width="0.9"/><path d="M28.3,71.0A35.3,35.3 0 0 1 32.4,57.4" stroke="#d0502c" stroke-width="1.4"/><path d="M37.4,110.1A46.9,46.9 0 0 1 24.2,96.3" stroke="#ed5832" stroke-width="0.8"/><path d="M86.2,87.8A28.0,28.0 0 0 1 66.5,98.9" stroke="#d04d2c" stroke-width="0.6"/><path d="M55.4,114.6A44.2,44.2 0 0 1 31.1,101.7" stroke="#ce4e2e" stroke-width="1.0"/><path d="M65.8,111.8A40.7,40.7 0 0 1 38.9,104.9" stroke="#cf6433" stroke-width="1.5"/><path d="M37.9,81.2A27.6,27.6 0 0 1 41.4,55.1" stroke="#f46337" stroke-width="1.2"/><path d="M94.6,73.6A31.1,31.1 0 0 1 91.6,87.2" stroke="#ed5832" stroke-width="0.8"/><path d="M42.4,20.7A54.7,54.7 0 0 1 65.6,16.6" stroke="#c3392c" stroke-width="1.1"/><path d="M35.2,89.3A33.7,33.7 0 0 1 32.1,63.1" stroke="#f35c35" stroke-width="0.9"/><path d="M43.8,98.9A34.0,34.0 0 0 1 30.2,73.8" stroke="#f45c34" stroke-width="0.9"/><path d="M41.4,108.9A43.8,43.8 0 0 1 25.2,95.0" stroke="#f46037" stroke-width="1.0"/><path d="M94.3,61.6A32.2,32.2 0 0 1 94.5,73.1" stroke="#ed5a32" stroke-width="1.3"/><path d="M68.6,101.2A30.4,30.4 0 0 1 50.9,99.9" stroke="#cf6131" stroke-width="1.1"/><path d="M32.4,79.1A32.2,32.2 0 0 1 36.6,56.5" stroke="#b43529" stroke-width="1.1"/><path d="M104.8,90.2A45.4,45.4 0 0 1 90.2,107.0" stroke="#f67836" stroke-width="1.4"/><path d="M39.9,114.7A49.6,49.6 0 0 1 28.3,106.7" stroke="#932968" stroke-width="1.0"/><path d="M85.9,103.1A38.9,38.9 0 0 1 75.8,108.8" stroke="#f45d34" stroke-width="1.2"/><path d="M117.5,77.0A54.3,54.3 0 0 1 111.7,92.9" stroke="#b1322c" stroke-width="1.5"/><path d="M90.5,112.1A48.9,48.9 0 0 1 80.3,118.4" stroke="#e8573b" stroke-width="1.3"/><path d="M25.9,45.6A45.6,45.6 0 0 1 32.9,35.7" stroke="#d4622e" stroke-width="0.8"/><path d="M106.2,101.4A52.2,52.2 0 0 1 93.0,115.9" stroke="#b43629" stroke-width="1.2"/><path d="M61.8,106.9A35.7,35.7 0 0 1 38.6,96.2" stroke="#f8803d" stroke-width="1.2"/><path d="M91.9,53.0A33.6,33.6 0 0 1 95.7,70.4" stroke="#fc7f34" stroke-width="1.2"/><path d="M100.8,57.8A39.6,39.6 0 0 1 103.6,80.4" stroke="#e05331" stroke-width="1.3"/><path d="M26.9,53.2A40.9,40.9 0 0 1 39.3,37.4" stroke="#d27039" stroke-width="1.0"/><path d="M85.7,95.2A32.7,32.7 0 0 1 65.2,103.0" stroke="#b43629" stroke-width="1.2"/><path d="M32.3,69.8A31.3,31.3 0 0 1 40.5,48.8" stroke="#fa8038" stroke-width="0.8"/><path d="M15.9,87.0A50.2,50.2 0 0 1 13.9,63.1" stroke="#f35a36" stroke-width="1.0"/><path d="M58.9,115.2A44.3,44.3 0 0 1 42.4,111.4" stroke="#d4632e" stroke-width="1.3"/><path d="M94.9,59.8A33.3,33.3 0 0 1 93.7,84.9" stroke="#f36037" stroke-width="1.3"/><path d="M107.1,61.8A44.6,44.6 0 0 1 108.0,77.5" stroke="#ee5c3e" stroke-width="1.0"/><path d="M19.1,70.7A44.5,44.5 0 0 1 29.8,42.2" stroke="#b3342a" stroke-width="1.5"/><path d="M45.8,52.8A25.6,25.6 0 0 1 63.3,47.0" stroke="#f46137" stroke-width="1.3"/><path d="M41.5,108.9A43.7,43.7 0 0 1 29.0,97.2" stroke="#ed5832" stroke-width="1.3"/><path d="M48.4,46.5A29.0,29.0 0 0 1 62.1,41.5" stroke="#e25430" stroke-width="1.2"/><path d="M96.4,69.2A32.8,32.8 0 0 1 89.5,92.7" stroke="#ed5832" stroke-width="1.3"/><path d="M38.7,59.6A27.5,27.5 0 0 1 45.0,50.2" stroke="#f68335" stroke-width="1.4"/><path d="M80.7,109.3A41.8,41.8 0 0 1 67.8,112.2" stroke="#b0424e" stroke-width="1.3"/><path d="M42.1,42.7A35.7,35.7 0 0 1 59.7,35.9" stroke="#af322d" stroke-width="0.8"/><path d="M80.9,113.2A45.5,45.5 0 0 1 55.5,116.1" stroke="#8b3455" stroke-width="1.4"/><path d="M98.4,95.9A42.7,42.7 0 0 1 77.4,110.8" stroke="#f46237" stroke-width="1.2"/><path d="M24.2,36.6A52.4,52.4 0 0 1 32.3,27.5" stroke="#b43529" stroke-width="0.6"/><path d="M94.1,66.4A30.9,30.9 0 0 1 86.4,91.4" stroke="#c3392c" stroke-width="1.1"/><path d="M80.5,93.0A27.6,27.6 0 0 1 60.4,99.8" stroke="#b43829" stroke-width="1.3"/><path d="M33.2,64.3A31.2,31.2 0 0 1 43.7,48.7" stroke="#ce5e30" stroke-width="0.7"/><path d="M37.0,76.0A27.0,27.0 0 0 1 44.2,53.7" stroke="#f66a37" stroke-width="1.0"/><path d="M85.9,87.5A27.6,27.6 0 0 1 60.5,99.1" stroke="#ed5a32" stroke-width="0.7"/><path d="M66.6,102.8A31.8,31.8 0 0 1 48.7,97.7" stroke="#ffb23e" stroke-width="1.4"/><path d="M24.4,52.1A43.7,43.7 0 0 1 35.2,37.5" stroke="#b9492c" stroke-width="0.7"/><path d="M77.4,112.6A43.6,43.6 0 0 1 50.8,114.1" stroke="#a23845" stroke-width="1.4"/><path d="M46.6,118.4A50.1,50.1 0 0 1 24.4,101.0" stroke="#9b2b76" stroke-width="1.3"/><path d="M114.6,85.9A53.1,53.1 0 0 1 105.6,103.5" stroke="#e85339" stroke-width="0.7"/><path d="M38.6,119.2A54.1,54.1 0 0 1 19.8,101.6" stroke="#c1382e" stroke-width="1.4"/><path d="M117.0,77.1A53.7,53.7 0 0 1 114.9,90.6" stroke="#f15d3b" stroke-width="1.4"/><path d="M72.7,17.5A54.5,54.5 0 0 1 90.0,24.5" stroke="#f46239" stroke-width="1.0"/><path d="M88.7,31.0A47.3,47.3 0 0 1 108.4,53.3" stroke="#892441" stroke-width="0.8"/><path d="M42.0,98.3A34.7,34.7 0 0 1 29.0,72.8" stroke="#cf4d2c" stroke-width="1.2"/><path d="M34.3,54.4A33.8,33.8 0 0 1 42.8,44.3" stroke="#e2a83a" stroke-width="0.7"/><path d="M112.3,92.7A53.2,53.2 0 0 1 105.2,102.6" stroke="#cd4b30" stroke-width="1.4"/><path d="M32.2,104.3A45.6,45.6 0 0 1 19.9,87.6" stroke="#b3332a" stroke-width="1.3"/><path d="M94.4,105.9A46.4,46.4 0 0 1 81.2,115.3" stroke="#c2382e" stroke-width="0.9"/><path d="M81.9,30.6A44.5,44.5 0 0 1 101.9,48.2" stroke="#cd4b2d" stroke-width="1.2"/><path d="M93.2,72.4A29.7,29.7 0 0 1 82.4,94.1" stroke="#c4392c" stroke-width="1.1"/><path d="M89.6,80.8A27.7,27.7 0 0 1 83.8,92.1" stroke="#f46037" stroke-width="1.1"/><path d="M20.2,90.8A47.6,47.6 0 0 1 15.6,76.4" stroke="#e95339" stroke-width="1.0"/><path d="M23.6,106.9A53.6,53.6 0 0 1 13.6,93.0" stroke="#f35a36" stroke-width="0.7"/><path d="M30.5,103.3A46.1,46.1 0 0 1 18.6,76.5" stroke="#b1322d" stroke-width="1.1"/><path d="M25.1,74.2A38.6,38.6 0 0 1 28.8,55.3" stroke="#f36038" stroke-width="1.0"/><path d="M59.7,29.5A41.9,41.9 0 0 1 81.6,31.9" stroke="#f5653c" stroke-width="0.7"/><path d="M30.3,108.1A49.7,49.7 0 0 1 20.8,93.8" stroke="#b33429" stroke-width="1.5"/><path d="M106.8,73.9A43.3,43.3 0 0 1 102.2,94.0" stroke="#95254b" stroke-width="1.0"/><path d="M36.7,103.6A42.1,42.1 0 0 1 25.6,86.5" stroke="#f36037" stroke-width="0.9"/><path d="M24.9,80.9A39.9,39.9 0 0 1 23.3,63.8" stroke="#f15839" stroke-width="1.5"/><path d="M107.4,83.0A45.4,45.4 0 0 1 102.4,95.9" stroke="#b72f40" stroke-width="0.6"/><path d="M87.7,99.8A37.3,37.3 0 0 1 62.3,109.8" stroke="#f56737" stroke-width="1.3"/><path d="M64.5,41.6A29.6,29.6 0 0 1 89.4,56.9" stroke="#e15330" stroke-width="0.8"/><path d="M17.9,91.6A50.1,50.1 0 0 1 13.1,68.1" stroke="#b2332b" stroke-width="0.9"/><path d="M49.4,28.9A44.6,44.6 0 0 1 76.0,28.8" stroke="#f45d36" stroke-width="0.6"/><path d="M74.6,37.0A35.9,35.9 0 0 1 95.5,54.9" stroke="#cf4d2c" stroke-width="1.3"/></g>
</g>
<g fill="none" stroke="#e07080" stroke-width="0.45" opacity="0.55"><ellipse cx="64.2" cy="72.6" rx="53.2" ry="53.7"/><ellipse cx="62.9" cy="72.7" rx="52.6" ry="53.2"/><ellipse cx="64.6" cy="71.4" rx="52.8" ry="53.3"/><ellipse cx="64.0" cy="69.7" rx="52.7" ry="53.3"/><ellipse cx="63.0" cy="72.5" rx="55.5" ry="56.0"/><ellipse cx="62.5" cy="70.9" rx="55.6" ry="56.2"/><ellipse cx="64.4" cy="70.0" rx="53.0" ry="53.6"/><ellipse cx="62.4" cy="72.3" rx="52.8" ry="53.3"/><ellipse cx="63.1" cy="71.0" rx="53.4" ry="53.9"/><ellipse cx="63.3" cy="72.5" rx="54.4" ry="55.0"/><ellipse cx="63.5" cy="72.3" rx="53.7" ry="54.2"/><ellipse cx="62.6" cy="72.2" rx="53.4" ry="53.9"/></g>
<linearGradient id="ia1" gradientUnits="userSpaceOnUse" x1="32.3" y1="35.2" x2="54" y2="48.3"><stop offset="0" stop-color="#767676"/><stop offset="0.3" stop-color="#8c8c8c"/><stop offset="0.7" stop-color="#b0b0b0"/><stop offset="1" stop-color="#d2d2d2"/></linearGradient>
<linearGradient id="ia2" gradientUnits="userSpaceOnUse" x1="111" y1="65.5" x2="86" y2="70.5"><stop offset="0" stop-color="#9a9a9a"/><stop offset="0.4" stop-color="#b5b5b5"/><stop offset="1" stop-color="#d4d4d4"/></linearGradient>
<linearGradient id="ia3" gradientUnits="userSpaceOnUse" x1="47.3" y1="115.5" x2="50" y2="93"><stop offset="0" stop-color="#747474"/><stop offset="0.35" stop-color="#8e8e8e"/><stop offset="0.75" stop-color="#b8b8b8"/><stop offset="1" stop-color="#d2d2d2"/></linearGradient>
<circle cx="63.3" cy="70.8" r="24.3" fill="#d6d6d6"/>
<path d="M32.3,35.2 L54,48.3" stroke="url(#ia1)" stroke-width="6.6"/>
<path d="M112,65.2 L85,70.8" stroke="url(#ia2)" stroke-width="7.4"/>
<path d="M47.3,115.5 L50.5,92" stroke="url(#ia3)" stroke-width="6.8"/>
<path d="M45.5,47 Q45,52 42.3,56 L52,52 Z M50.5,42.5 Q54,46 57.5,47 L52,49Z M86,63.5 Q89,66 92,66 L91,74 Q88,74 85,78 Z M45,96 Q48,93 47,90 L55,92 Q52,95 53.5,97Z" fill="#d6d6d6"/>
<circle cx="62.5" cy="70.9" r="17" fill="#fff"/>

<!-- /IMPELLER -->
<!-- PROPELLER -->
<filter id="bl2" x="-50%" y="-50%" width="200%" height="200%"><feGaussianBlur stdDeviation="1.8"/></filter>
<g fill="none"><ellipse cx="258.2" cy="76.7" rx="49.8" ry="48.5" stroke="#b0205a" stroke-width="0.81" opacity="0.68"/><ellipse cx="258.5" cy="73.8" rx="54.7" ry="53.4" stroke="#e0603a" stroke-width="0.43" opacity="0.62"/><ellipse cx="258.0" cy="74.5" rx="54.0" ry="53.7" stroke="#c02a60" stroke-width="0.69" opacity="0.84"/><ellipse cx="261.7" cy="74.8" rx="47.4" ry="47.6" stroke="#d03860" stroke-width="0.67" opacity="0.67"/><ellipse cx="257.9" cy="76.3" rx="52.8" ry="52.9" stroke="#a82070" stroke-width="0.59" opacity="0.48"/><ellipse cx="258.4" cy="76.8" rx="47.5" ry="47.4" stroke="#e0603a" stroke-width="0.79" opacity="0.82"/><ellipse cx="258.6" cy="74.3" rx="50.1" ry="49.5" stroke="#a82070" stroke-width="0.44" opacity="0.65"/><ellipse cx="259.6" cy="76.4" rx="49.9" ry="49.7" stroke="#b0205a" stroke-width="0.46" opacity="0.75"/><ellipse cx="259.8" cy="73.6" rx="48.3" ry="48.5" stroke="#b0205a" stroke-width="0.78" opacity="0.80"/><ellipse cx="260.9" cy="76.4" rx="49.7" ry="48.5" stroke="#8a2080" stroke-width="0.43" opacity="0.56"/><ellipse cx="257.7" cy="77.1" rx="52.9" ry="54.5" stroke="#c83050" stroke-width="0.72" opacity="0.78"/><ellipse cx="259.3" cy="76.7" rx="49.4" ry="49.0" stroke="#c02a60" stroke-width="0.87" opacity="0.69"/><ellipse cx="258.5" cy="74.8" rx="51.2" ry="52.5" stroke="#a82070" stroke-width="0.60" opacity="0.65"/><ellipse cx="259.4" cy="74.8" rx="48.4" ry="49.5" stroke="#d03860" stroke-width="0.81" opacity="0.56"/><ellipse cx="259.2" cy="77.8" rx="50.5" ry="49.5" stroke="#a82070" stroke-width="0.48" opacity="0.54"/><ellipse cx="259.8" cy="76.3" rx="49.0" ry="47.9" stroke="#c83050" stroke-width="0.54" opacity="0.66"/><ellipse cx="259.0" cy="74.0" rx="52.2" ry="53.3" stroke="#c02a60" stroke-width="0.63" opacity="0.83"/><ellipse cx="260.2" cy="75.4" rx="52.8" ry="53.2" stroke="#e0603a" stroke-width="0.45" opacity="0.47"/><ellipse cx="258.4" cy="74.2" rx="47.6" ry="46.4" stroke="#d84a60" stroke-width="0.70" opacity="0.68"/><ellipse cx="262.1" cy="76.5" rx="51.6" ry="51.9" stroke="#b0205a" stroke-width="0.84" opacity="0.51"/><ellipse cx="259.1" cy="75.2" rx="49.1" ry="49.1" stroke="#b0205a" stroke-width="0.46" opacity="0.84"/><ellipse cx="259.0" cy="74.1" rx="51.1" ry="51.0" stroke="#d84a60" stroke-width="0.77" opacity="0.73"/><ellipse cx="258.4" cy="78.2" rx="51.4" ry="51.5" stroke="#d84a60" stroke-width="0.47" opacity="0.46"/><ellipse cx="262.3" cy="77.7" rx="51.5" ry="52.8" stroke="#c83050" stroke-width="0.66" opacity="0.59"/><ellipse cx="260.1" cy="75.9" rx="48.9" ry="49.7" stroke="#a82070" stroke-width="0.71" opacity="0.75"/><ellipse cx="258.6" cy="75.4" rx="48.7" ry="48.6" stroke="#a82070" stroke-width="0.50" opacity="0.74"/><ellipse cx="261.4" cy="75.8" rx="55.4" ry="56.9" stroke="#a82070" stroke-width="0.75" opacity="0.63"/><ellipse cx="262.3" cy="78.2" rx="55.0" ry="53.7" stroke="#d84a60" stroke-width="0.44" opacity="0.64"/><ellipse cx="259.8" cy="78.3" rx="49.9" ry="50.3" stroke="#c02a60" stroke-width="0.64" opacity="0.77"/><ellipse cx="260.7" cy="77.9" rx="47.7" ry="46.8" stroke="#a82070" stroke-width="0.64" opacity="0.77"/><ellipse cx="261.4" cy="78.3" rx="49.8" ry="50.6" stroke="#e0603a" stroke-width="0.63" opacity="0.48"/><ellipse cx="262.4" cy="73.5" rx="48.4" ry="47.3" stroke="#8a2080" stroke-width="0.80" opacity="0.78"/><ellipse cx="260.7" cy="75.2" rx="55.3" ry="56.3" stroke="#d03860" stroke-width="0.41" opacity="0.74"/><ellipse cx="261.1" cy="74.1" rx="47.9" ry="47.0" stroke="#a82070" stroke-width="0.81" opacity="0.55"/><ellipse cx="307" cy="72" rx="10" ry="30" stroke="#c83868" stroke-width="0.5" opacity="0.7"/><ellipse cx="310" cy="86" rx="9" ry="27" stroke="#c83868" stroke-width="0.5" opacity="0.7"/><ellipse cx="305" cy="60" rx="8" ry="22" stroke="#c83868" stroke-width="0.5" opacity="0.7"/><ellipse cx="312" cy="96" rx="7" ry="20" stroke="#c83868" stroke-width="0.5" opacity="0.7"/><ellipse cx="308" cy="48" rx="6" ry="13" stroke="#c83868" stroke-width="0.5" opacity="0.7"/><ellipse cx="303" cy="108" rx="8" ry="16" stroke="#c83868" stroke-width="0.5" opacity="0.7"/></g>
<g fill="none"><path d="M241.4,96.1L236.8,86.7" stroke="#f8d070" stroke-width="0.9" opacity="0.65"/><path d="M237.1,83.1L235.1,71.3" stroke="#f7c6d0" stroke-width="0.7" opacity="0.65"/><path d="M228.7,95.3L223.5,82.5" stroke="#f4b0c8" stroke-width="0.9" opacity="0.65"/><path d="M228.6,90.8L228.1,75.6" stroke="#fbe4e0" stroke-width="0.7" opacity="0.65"/><path d="M230.2,92.1L226.5,82.2" stroke="#f7c6d0" stroke-width="0.7" opacity="0.65"/><path d="M225.7,81.3L227.8,73.6" stroke="#f4b0c8" stroke-width="0.9" opacity="0.65"/><path d="M232.9,90.4L226.0,77.4" stroke="#f8d070" stroke-width="0.7" opacity="0.65"/><path d="M226.0,92.2L224.6,82.1" stroke="#f7c6d0" stroke-width="0.8" opacity="0.65"/><path d="M229.9,78.8L228.5,65.1" stroke="#e0609a" stroke-width="1.0" opacity="0.65"/><path d="M236.4,103.7L228.9,93.6" stroke="#f8d070" stroke-width="0.7" opacity="0.65"/><path d="M243.6,93.7L238.9,90.2" stroke="#f4b0c8" stroke-width="0.9" opacity="0.65"/><path d="M236.0,84.2L237.5,74.0" stroke="#fbe4e0" stroke-width="1.0" opacity="0.65"/><path d="M233.7,78.1L234.5,69.4" stroke="#c84080" stroke-width="0.9" opacity="0.65"/><path d="M239.4,90.9L236.6,82.1" stroke="#fbe4e0" stroke-width="0.7" opacity="0.65"/><path d="M241.2,91.6L237.6,84.9" stroke="#c84080" stroke-width="0.5" opacity="0.65"/><path d="M234.5,87.5L235.5,77.3" stroke="#fbe4e0" stroke-width="1.0" opacity="0.65"/><path d="M253.1,52.3L258.3,49.1" stroke="#e0609a" stroke-width="0.9" opacity="0.65"/><path d="M271.4,42.5L286.5,47.5" stroke="#f8d070" stroke-width="0.6" opacity="0.65"/><path d="M261.3,39.1L275.0,46.0" stroke="#f4b0c8" stroke-width="0.9" opacity="0.65"/><path d="M269.4,52.0L273.5,58.8" stroke="#f4b0c8" stroke-width="0.9" opacity="0.65"/><path d="M267.9,53.0L274.5,53.0" stroke="#f8d070" stroke-width="0.5" opacity="0.65"/><path d="M255.3,38.3L274.2,39.7" stroke="#f4b0c8" stroke-width="0.8" opacity="0.65"/><path d="M248.5,51.9L255.7,53.3" stroke="#fbe4e0" stroke-width="1.0" opacity="0.65"/><path d="M259.8,43.5L268.5,45.1" stroke="#c84080" stroke-width="0.6" opacity="0.65"/><path d="M245.4,51.7L253.8,52.3" stroke="#c84080" stroke-width="0.8" opacity="0.65"/><path d="M259.1,38.2L269.7,40.0" stroke="#c84080" stroke-width="0.9" opacity="0.65"/><path d="M258.7,46.4L271.9,49.9" stroke="#f7c6d0" stroke-width="0.7" opacity="0.65"/><path d="M251.7,51.0L258.5,46.6" stroke="#c84080" stroke-width="0.8" opacity="0.65"/><path d="M254.3,47.4L260.7,49.8" stroke="#f4b0c8" stroke-width="0.8" opacity="0.65"/><path d="M256.0,39.9L264.4,38.6" stroke="#f8d070" stroke-width="0.9" opacity="0.65"/><path d="M251.3,44.0L260.6,44.5" stroke="#f8d070" stroke-width="0.6" opacity="0.65"/><path d="M245.7,52.9L254.0,50.9" stroke="#f7c6d0" stroke-width="0.7" opacity="0.65"/><path d="M274.7,94.2L268.1,95.2" stroke="#e0609a" stroke-width="0.7" opacity="0.65"/><path d="M286.5,90.1L281.7,96.8" stroke="#f4b0c8" stroke-width="0.5" opacity="0.65"/><path d="M294.9,80.0L289.9,92.7" stroke="#e0609a" stroke-width="0.7" opacity="0.65"/><path d="M282.1,90.4L276.4,99.1" stroke="#c84080" stroke-width="0.9" opacity="0.65"/><path d="M288.8,95.2L278.4,107.4" stroke="#f8d070" stroke-width="0.6" opacity="0.65"/><path d="M287.1,96.1L283.7,103.6" stroke="#f7c6d0" stroke-width="0.8" opacity="0.65"/><path d="M283.2,100.7L276.4,105.9" stroke="#f7c6d0" stroke-width="0.8" opacity="0.65"/><path d="M295.1,75.3L294.4,90.8" stroke="#c84080" stroke-width="0.8" opacity="0.65"/><path d="M292.6,82.7L287.7,88.5" stroke="#e0609a" stroke-width="1.0" opacity="0.65"/><path d="M285.8,88.0L279.4,91.2" stroke="#f7c6d0" stroke-width="0.8" opacity="0.65"/><path d="M290.2,74.9L289.3,89.3" stroke="#f7c6d0" stroke-width="0.9" opacity="0.65"/><path d="M281.1,87.9L273.8,95.7" stroke="#f4b0c8" stroke-width="0.9" opacity="0.65"/><path d="M279.2,94.1L274.0,99.8" stroke="#f8d070" stroke-width="0.7" opacity="0.65"/><path d="M285.6,88.8L279.3,99.9" stroke="#f7c6d0" stroke-width="0.8" opacity="0.65"/><path d="M281.4,90.4L276.7,97.3" stroke="#c84080" stroke-width="0.7" opacity="0.65"/><path d="M291.4,75.2L288.9,82.0" stroke="#c84080" stroke-width="0.5" opacity="0.65"/></g>
<g fill="none"><path d="M262.6,116.8A41.0,41.0 0 0 1 237.9,110.4" stroke="#f8c8a0" stroke-width="0.6" opacity="0.45"/><path d="M289.2,44.1A43.2,43.2 0 0 1 302.9,71.7" stroke="#fbe0d8" stroke-width="0.5" opacity="0.45"/><path d="M266.6,115.1A39.8,39.8 0 0 1 250.3,114.5" stroke="#f6b0c0" stroke-width="0.7" opacity="0.45"/><path d="M274.8,121.2A47.7,47.7 0 0 1 255.9,123.4" stroke="#fbe0d8" stroke-width="0.8" opacity="0.45"/><path d="M281.3,33.6A47.4,47.4 0 0 1 293.1,42.2" stroke="#f8c8a0" stroke-width="0.8" opacity="0.45"/><path d="M223.6,58.7A40.2,40.2 0 0 1 237.2,42.8" stroke="#f6b0c0" stroke-width="0.7" opacity="0.45"/><path d="M235.3,43.0A41.1,41.1 0 0 1 254.7,35.1" stroke="#f6b0c0" stroke-width="0.5" opacity="0.45"/><path d="M216.7,95.7A47.5,47.5 0 0 1 212.4,73.8" stroke="#fbe0d8" stroke-width="0.6" opacity="0.45"/><path d="M289.1,45.2A42.4,42.4 0 0 1 299.3,60.3" stroke="#f8c8a0" stroke-width="0.7" opacity="0.45"/><path d="M291.8,42.0A46.6,46.6 0 0 1 306.3,72.7" stroke="#f6b0c0" stroke-width="0.8" opacity="0.45"/><path d="M289.8,104.8A41.6,41.6 0 0 1 273.6,115.2" stroke="#f6b0c0" stroke-width="0.5" opacity="0.45"/><path d="M302.2,82.6A42.9,42.9 0 0 1 298.6,94.4" stroke="#f6b0c0" stroke-width="0.4" opacity="0.45"/><path d="M226.2,105.6A45.0,45.0 0 0 1 218.2,92.7" stroke="#f8c8a0" stroke-width="0.6" opacity="0.45"/><path d="M218.5,69.8A41.8,41.8 0 0 1 231.3,45.3" stroke="#e890b0" stroke-width="0.8" opacity="0.45"/><path d="M226.0,107.4A46.3,46.3 0 0 1 213.6,76.3" stroke="#fbe0d8" stroke-width="0.7" opacity="0.45"/><path d="M220.7,80.3A39.4,39.4 0 0 1 223.4,61.0" stroke="#fbe0d8" stroke-width="0.7" opacity="0.45"/><path d="M272.5,36.3A41.6,41.6 0 0 1 296.1,55.4" stroke="#fbe0d8" stroke-width="0.5" opacity="0.45"/><path d="M301.8,84.4A42.7,42.7 0 0 1 295.3,99.9" stroke="#f8c8a0" stroke-width="0.6" opacity="0.45"/><path d="M264.2,116.8A41.1,41.1 0 0 1 239.9,111.9" stroke="#f6b0c0" stroke-width="0.5" opacity="0.45"/><path d="M298.9,65.3A40.5,40.5 0 0 1 295.9,94.3" stroke="#e890b0" stroke-width="0.6" opacity="0.45"/><path d="M297.3,97.3A43.1,43.1 0 0 1 276.3,115.7" stroke="#e890b0" stroke-width="0.5" opacity="0.45"/><path d="M281.9,41.6A40.7,40.7 0 0 1 294.4,54.3" stroke="#f6b0c0" stroke-width="0.5" opacity="0.45"/><path d="M220.5,60.5A42.3,42.3 0 0 1 228.7,47.3" stroke="#f6b0c0" stroke-width="0.7" opacity="0.45"/><path d="M281.9,112.5A42.7,42.7 0 0 1 260.1,118.6" stroke="#e890b0" stroke-width="0.5" opacity="0.45"/><path d="M260.4,121.7A45.8,45.8 0 0 1 235.9,114.9" stroke="#f8c8a0" stroke-width="0.5" opacity="0.45"/><path d="M228.2,105.8A43.5,43.5 0 0 1 216.4,77.8" stroke="#fbe0d8" stroke-width="0.4" opacity="0.45"/><path d="M291.1,111.1A47.1,47.1 0 0 1 265.8,122.6" stroke="#e890b0" stroke-width="0.8" opacity="0.45"/><path d="M226.5,43.4A46.6,46.6 0 0 1 236.5,35.6" stroke="#f6b0c0" stroke-width="0.6" opacity="0.45"/><path d="M216.7,60.6A45.9,45.9 0 0 1 239.5,34.8" stroke="#e890b0" stroke-width="0.4" opacity="0.45"/><path d="M241.0,37.8A42.5,42.5 0 0 1 269.8,34.5" stroke="#e890b0" stroke-width="0.8" opacity="0.45"/><path d="M286.0,44.0A41.2,41.2 0 0 1 295.2,54.6" stroke="#f6b0c0" stroke-width="0.8" opacity="0.45"/><path d="M223.5,103.3A45.5,45.5 0 0 1 214.4,75.1" stroke="#e890b0" stroke-width="0.4" opacity="0.45"/><path d="M260.3,29.9A46.0,46.0 0 0 1 275.1,32.5" stroke="#f6b0c0" stroke-width="0.7" opacity="0.45"/><path d="M290.0,46.9A41.7,41.7 0 0 1 298.8,60.7" stroke="#e890b0" stroke-width="0.7" opacity="0.45"/><path d="M277.0,39.7A40.0,40.0 0 0 1 293.1,53.6" stroke="#fbe0d8" stroke-width="0.6" opacity="0.45"/><path d="M235.6,108.9A41.0,41.0 0 0 1 227.7,101.3" stroke="#f8c8a0" stroke-width="0.8" opacity="0.45"/><path d="M297.9,92.7A41.5,41.5 0 0 1 278.0,113.2" stroke="#fbe0d8" stroke-width="0.6" opacity="0.45"/><path d="M301.0,75.1A41.1,41.1 0 0 1 290.1,103.8" stroke="#f8c8a0" stroke-width="0.4" opacity="0.45"/><path d="M232.9,45.4A40.7,40.7 0 0 1 254.9,35.5" stroke="#f6b0c0" stroke-width="0.5" opacity="0.45"/><path d="M239.5,35.8A45.0,45.0 0 0 1 255.9,31.1" stroke="#f6b0c0" stroke-width="0.7" opacity="0.45"/></g>
<g><path d="M238.7,79.6 L221.3,71.8 L221.7,69.1 L222.3,66.4 L223.0,63.8 L224.0,61.2 L225.1,58.7 L226.4,56.2 L227.9,53.9 L229.6,51.7 L231.4,49.6 L233.3,47.7 L235.4,45.8 L237.6,44.2 L239.9,42.7 L242.3,41.3 L247.8,47.4 L254.0,55.2 L250.3,56.7 L247.0,58.7 L244.0,61.4 L241.7,64.5 L239.9,68.0 L238.8,71.8 L238.4,75.7 L238.7,79.6Z" fill="#6f6f6f"/><path d="M267.3,55.7 L282.7,44.5 L284.9,46.2 L286.9,48.1 L288.8,50.0 L290.6,52.2 L292.2,54.4 L293.6,56.8 L294.9,59.2 L296.0,61.7 L296.9,64.3 L297.7,67.0 L298.2,69.7 L298.5,72.4 L298.7,75.2 L298.6,77.9 L290.7,79.7 L280.8,81.1 L281.4,77.2 L281.2,73.3 L280.4,69.4 L278.9,65.8 L276.7,62.5 L274.0,59.7 L270.8,57.4 L267.3,55.7Z" fill="#7d7d7d"/><path d="M273.7,92.4 L276.0,112.0 L273.4,113.0 L270.7,113.9 L268.0,114.6 L265.2,115.0 L262.4,115.3 L259.6,115.4 L256.8,115.3 L254.0,115.0 L251.3,114.4 L248.5,113.7 L245.9,112.8 L243.3,111.7 L240.8,110.5 L238.4,109.0 L241.2,100.7 L245.0,91.4 L248.0,93.8 L251.5,95.7 L255.2,96.9 L259.1,97.4 L263.1,97.2 L266.9,96.2 L270.5,94.6 L273.7,92.4Z" fill="#8d8d8d"/></g>
<g fill="#adadad"><path d="M244.8,61.3 Q245.4,54.3 247.8,47.4 L254.7,55.0 Z"/><path d="M280.1,70.1 Q285.8,74.1 290.7,79.7 L280.6,81.8 Z"/><path d="M254.8,96.3 Q248.5,99.3 241.2,100.7 L244.4,90.8 Z"/></g>
<circle cx="259.9" cy="75.9" r="22.5" fill="#cfcfcf"/>
<circle cx="259.4" cy="75.9" r="15.1" fill="#fff"/>

<!-- /PROPELLER -->
<!-- STIRRER -->
<radialGradient id="beige" cx="0.5" cy="0.5" r="0.5"><stop offset="0" stop-color="#e4e1c9"/><stop offset="0.7" stop-color="#dad6b6"/><stop offset="1" stop-color="#cdc8a2"/></radialGradient>
<linearGradient id="shaftg" x1="0" y1="0" x2="1" y2="0"><stop offset="0" stop-color="#3a3a3a"/><stop offset="0.3" stop-color="#656565"/><stop offset="0.6" stop-color="#5e5e5e"/><stop offset="1" stop-color="#3c3c3c"/></linearGradient>
<linearGradient id="hubg" x1="0" y1="0" x2="0.3" y2="1"><stop offset="0" stop-color="#6a6a62"/><stop offset="1" stop-color="#4a4a44"/></linearGradient>
<ellipse cx="638" cy="104" rx="24.8" ry="16.8" fill="url(#beige)"/>
<path d="M628.7,95.2 C624,94.2 619.5,94.5 618.2,97.5 C617,100.5 618,102 619.5,102.8 C623,104.5 627,105.5 630.3,106.9 C632.5,109 634,113 635.7,115.5 C637.5,118.5 640,119.8 641.8,119.4 C644.5,118.8 646.5,117.5 646.6,115.5 C647,112 647.4,108 647.4,104.6 C648.5,101 651.5,96 652.1,92.1 C652.4,90.5 651.5,89.8 650.5,90.3 C648.5,91.2 646.5,92.5 645.9,93.5 L645.1,96.8Z" fill="url(#hubg)"/>
<path d="M619,99.5 C622,102 626,103.5 630.5,104.5 L631,106.6 C627,105.5 622,104 619.5,102.6Z" fill="#75756c" opacity="0.8"/>
<path d="M647.6,101 C649,97.5 651,94.5 651.6,91.5 L652.2,92.5 C651.5,96 649,100.5 647.4,104.6Z" fill="#7a7a72" opacity="0.8"/>
<path d="M627.8,96.5 C628,102.5 632,104.6 637.3,104.8 C642.5,104.6 646.5,102.5 646.7,96.3 L644.2,97.5 C643.5,100.6 641,101.8 637.3,101.8 C633.5,101.8 631,100.6 630.4,97.5Z" fill="#8e8e8e"/>
<path d="M639.3,104.5 L643.8,115.5 L645.6,115 L641.6,104.4Z" fill="#8c8c88"/>
<path d="M630.6,63.5 C630.6,56.8 644,56.8 644,63.5 L644,98 C644,101.2 630.6,101.2 630.6,98Z" fill="url(#shaftg)"/>
<path d="M636.9,58 V47" stroke="#777" stroke-width="1.3"/>
<path d="M636.9,42.2 L640.4,48 L633.4,48Z" fill="#777"/>
<text x="633.4" y="39.3" font-size="13" font-style="italic" font-weight="bold">z</text>

<!-- /STIRRER -->
<!-- turbine hub -->
<g id="turbhub">
<g fill="#d6d6d6">
<rect x="475" y="71.1" width="13.8" height="4.8" />
<rect x="407.6" y="71.1" width="13.8" height="4.8" />
<rect x="-2.4" y="-40.8" width="4.8" height="14" transform="translate(448.2,73.3) rotate(30)"/>
<rect x="-2.4" y="-40.8" width="4.8" height="14" transform="translate(448.2,73.3) rotate(-30)"/>
<rect x="-2.4" y="-40.8" width="4.8" height="14" transform="translate(448.2,73.3) rotate(150)"/>
<rect x="-2.4" y="-40.8" width="4.8" height="14" transform="translate(448.2,73.3) rotate(-150)"/>
</g>
<circle cx="448.2" cy="73.3" r="27.3" fill="#d8d8d8" stroke="#8a8a8a" stroke-width="1.3"/>
<circle cx="450.3" cy="75.3" r="16.7" fill="#fff"/>
</g>

<!-- panel labels -->
<text x="-0.2" y="8" font-size="13.2" font-weight="bold">a</text>
<text x="-0.2" y="161.9" font-size="14" font-weight="bold">b</text>

<!-- colorbars -->
<g>
<rect x="158.8" y="21" width="10.6" height="103.6" fill="url(#inferno)"/>
<path d="M153.2,21.6H158.8M153.2,124.4H158.8" stroke="#1a1a1a" stroke-width="1.2"/>
<text x="150" y="26.3" font-size="12.5" letter-spacing="0.35" text-anchor="end">0.45</text>
<text x="150.3" y="129.2" font-size="12.5" letter-spacing="0.35" text-anchor="end">-0.03</text>

<rect x="354.6" y="21" width="10.8" height="103.6" fill="url(#inferno)"/>
<path d="M349.2,21.6H354.6M349.2,124.4H354.6" stroke="#1a1a1a" stroke-width="1.2"/>
<text x="347.5" y="26.3" font-size="12.5" letter-spacing="0.35" text-anchor="end">0.35</text>
<text x="347.5" y="129.2" font-size="12.5" letter-spacing="0.35" text-anchor="end">-0.35</text>

<rect x="537.9" y="21.2" width="10.3" height="103.2" fill="url(#inferno)"/>
<path d="M532.2,21.8H537.9M532.2,124.6H537.9" stroke="#1a1a1a" stroke-width="1.2"/>
<text x="530.5" y="26.3" font-size="12.5" letter-spacing="0.35" text-anchor="end">0.25</text>
<text x="530.5" y="129.2" font-size="12.5" letter-spacing="0.35" text-anchor="end">-0.26</text>
<text transform="translate(559.8,5.6) rotate(90)" font-size="13">Particle <tspan font-style="italic">z</tspan>-velocity (m s<tspan font-size="8" dy="-5">-1</tspan><tspan dy="5">)</tspan></text>
</g>

<!-- image labels -->
<text x="33.6" y="146.5" font-size="13">Impeller</text>
<text x="236.5" y="146.5" font-size="13">Propeller</text>
<text x="427.2" y="146.5" font-size="13">Turbine</text>
<text x="608.3" y="20" font-size="13" letter-spacing="0.25">750 r.p.m</text>
<text x="596.5" y="146.4" font-size="13">H<tspan font-size="8" dy="4.2">2</tspan><tspan dy="-4.2"> + HDPE</tspan><tspan font-size="8" dy="4.2">200</tspan></text>

<!-- ICONS -->
<defs>
<g id="icTurb">
<g stroke="#cbcbcb" stroke-width="2.8">
<path d="M-15.8,0H-9.5M9.5,0H15.8M-4.75,-8.2L-7.9,-13.7M4.75,-8.2L7.9,-13.7M-4.75,8.2L-7.9,13.7M4.75,8.2L7.9,13.7"/>
</g>
<circle r="10.1" fill="#d2d2d2" stroke="#8a8a8a" stroke-width="0.8"/>
<circle r="5.4" fill="#fff"/>
</g>
<linearGradient id="pbg" x1="0" y1="0" x2="1" y2="1"><stop offset="0" stop-color="#5a5a5a"/><stop offset="1" stop-color="#7a7a7a"/></linearGradient>
<g id="icProp">
<circle r="9.6" fill="#929292"/>
<g fill="#7a7a7a" stroke="#7a7a7a" stroke-width="0.8" stroke-linejoin="round">
<path d="M-15.3,-10.4 L-7,-17.7 L-2.3,-14.6 L-3.9,-8.4 L-9,-2.7 L-13.2,-5.2Z"/>
<path d="M5.2,-8.4 L15.6,-11 L17.7,-9.4 L18.2,0 L13.5,3.6 L8,1Z"/>
<path d="M-9.8,6.5 L2.5,7.5 L1.5,16.1 L-1.1,17.6 L-9.6,15Z"/>
</g>
<g fill="#8c8c8c">
<path d="M-3.9,-8.4 L-2.3,-14.6 L-1.5,-12 L-2,-8Z"/>
<path d="M13.5,3.6 L18.2,0 L16,3.5Z"/>
<path d="M-10.6,9.3 L-9.6,15 L-8,10Z"/>
</g>
<circle r="8.1" fill="#cccccc"/>
<circle r="5" fill="#fff"/>
</g>
<g id="icImp">
<g fill="#c6c6c6">
<path d="M-7.5,-4.5 L-3,-8.5 L-5,-10.5Z"/>
<path d="M6.5,-3.5 L7.5,3 L10,0.5Z"/>
<path d="M-6,6 L-0.5,8.5 L-4,11Z"/>
</g>
<g fill="none" stroke="#c4c4c4" stroke-width="3" stroke-linecap="butt">
<path d="M-4.5,-7 Q-7,-11.5 -9,-13"/>
<path d="M7.5,-0.2 Q12.5,0.3 14.8,-1"/>
<path d="M-3.2,7.8 Q-5.2,11.5 -6,14.5"/>
</g>
<g fill="none" stroke="#8a8a8a" stroke-width="2.9">
<path d="M-9,-13 Q-10,-13.9 -11,-14.5"/>
<path d="M14.8,-1 Q15.8,-1.5 16.8,-2.1"/>
<path d="M-6,14.5 Q-6.3,15.8 -6.5,17"/>
</g>
<g fill="none" stroke="#555" stroke-width="2.8">
<path d="M-11,-14.5 Q-12,-15.1 -13.3,-15.6"/>
<path d="M16.8,-2.1 Q18,-2.8 19.3,-3.6"/>
<path d="M-6.5,17 Q-6.8,18.3 -7,19.8"/>
</g>
<circle r="7.1" fill="none" stroke="#c6c6c6" stroke-width="3"/>
</g>
</defs>
<use href="#icTurb" x="66.2" y="240.4"/>
<use href="#icTurb" x="418.3" y="359.1"/>
<use href="#icProp" x="159.7" y="224.4"/>
<use href="#icProp" x="551.2" y="330"/>
<use href="#icImp" x="268.1" y="210.5"/>
<use href="#icImp" x="638" y="296.8"/>

<!-- /ICONS -->
<!-- ============ LEFT PLOT ============ -->
<g id="left">
<g stroke="#707070" stroke-width="2" fill="none" stroke-dasharray="5.4 5.2">
<path stroke-dasharray="5.36 5.26" stroke-dashoffset="7.65" d="M60.0,268.4 L66.1,267.6 L72.2,266.8 L78.4,266.0 L84.5,265.2 L90.6,264.4 L96.7,263.5 L102.8,262.7 L109.0,261.9 L115.1,261.1 L121.2,260.3 L127.3,259.5 L133.5,258.7 L139.6,257.9 L145.7,257.1 L151.8,256.3 L157.9,255.4 L164.1,254.6 L170.2,253.8 L176.3,253.0 L182.4,252.2 L188.5,251.4 L194.7,250.6 L200.8,249.8 L206.9,248.9 L213.0,248.1 L219.2,247.3 L225.3,246.5 L231.4,245.7 L237.5,244.9 L243.6,244.1 L249.8,243.2 L255.9,242.4 L262.0,241.6"/>
<path stroke-dasharray="5.36 5.26" stroke-dashoffset="3.8" d="M50.0,301.0 L55.4,303.7 L60.9,306.3 L66.3,308.9 L71.7,311.5 L77.2,314.1 L82.6,316.6 L88.1,319.2 L93.5,321.7 L98.9,324.2 L104.4,326.7 L109.8,329.2 L115.2,331.7 L120.7,334.1 L126.1,336.5 L131.5,338.9 L137.0,341.3 L142.4,343.7 L147.8,346.0 L153.3,348.4 L158.7,350.7 L164.2,352.9 L169.6,355.2 L175.0,357.4 L180.5,359.6 L185.9,361.8 L191.3,363.9 L196.8,366.1 L202.2,368.2 L207.6,370.2 L213.1,372.3 L218.5,374.3 L223.9,376.2 L229.4,378.2 L234.8,380.1 L240.3,382.0 L245.7,383.8 L251.1,385.6 L256.6,387.4"/>
</g>
<g fill="#df5565">
<circle cx="50" cy="268" r="6.2"/>
<circle cx="154.5" cy="257.4" r="6.3"/>
<circle cx="271.4" cy="241.5" r="6.3"/>
<path d="M50,298.9 L56.6,310 L43.4,310Z"/>
<path d="M154.4,341.1 L161.1,352.7 L147.7,352.7Z"/>
<path d="M271.3,381.1 L278,392.7 L264.6,392.7Z"/>
</g>
<!-- legend -->
<path d="M63.1,371.6 L70,383.4 L56,383.4Z" fill="#5f5f5f"/>
<circle cx="63" cy="404.6" r="6.2" fill="#6a6a6a"/>
<text x="79.2" y="382.7" font-size="13">Selectivity</text>
<text x="79.2" y="408.6" font-size="13">Yield</text>
<text x="55.3" y="187.8" font-size="13" font-weight="bold">HDPE<tspan font-size="8.5" dy="4.5">200</tspan></text>
<!-- axes -->
<g stroke="#111" stroke-width="1.5" fill="none">
<rect x="43.65" y="171.3" width="278.8" height="267.95"/>
<path d="M38,171.3H43.65M38,224.9H43.65M38,278.5H43.65M38,332.1H43.65M38,385.7H43.65"/>
<path d="M43.65,439.25V444M113.35,439.25V444M183.05,439.25V444M252.75,439.25V444M322.45,439.25V444"/>
<path d="M78.5,439.25V442.5M148.2,439.25V442.5M217.9,439.25V442.5M287.6,439.25V442.5"/>
</g>
<g font-size="12.5" letter-spacing="0.35" text-anchor="end">
<text x="34.4" y="175.3">100</text>
<text x="34.4" y="228.9">80</text>
<text x="34.4" y="282.5">60</text>
<text x="34.4" y="336.1">40</text>
<text x="34.4" y="389.7">20</text>
<text x="34.4" y="443.3">0</text>
</g>
<g font-size="12.5" letter-spacing="0.35" text-anchor="middle">
<text x="43.65" y="458.7">1.00</text>
<text x="114.55" y="458.7">1.25</text>
<text x="184.25" y="458.7">1.50</text>
<text x="253.95" y="458.7">1.75</text>
<text x="323.65" y="458.7">2.50</text>
</g>
<text x="185" y="478" font-size="13" text-anchor="middle">Particle max. <tspan font-style="italic">z</tspan>-Reynolds number (10<tspan font-size="8" dy="-5">-4</tspan><tspan dy="5">)</tspan></text>
<text transform="translate(10.2,304) rotate(-90)" font-size="14" text-anchor="middle">Yield, C<tspan font-size="9" dy="3.5">1</tspan><tspan dy="-3.5">-C</tspan><tspan font-size="9" dy="3.5">45</tspan><tspan dy="-3.5"> or Selectivity, C</tspan><tspan font-size="9" dy="3.5">6</tspan><tspan dy="-3.5">-C</tspan><tspan font-size="9" dy="3.5">45</tspan><tspan dy="-3.5"> ( %)</tspan></text>
</g>

<!-- ============ RIGHT PLOT ============ -->
<g id="right">
<g stroke="#707070" stroke-width="2" fill="none" stroke-dasharray="5.4 5.2">
<path stroke-dasharray="5.45 5.35" stroke-dashoffset="1.7" d="M399.5,245.6 L405.5,245.7 L411.5,245.8 L417.5,245.8 L423.5,245.8 L429.5,245.7 L435.5,245.6 L441.5,245.4 L447.5,245.2 L453.5,244.9 L459.5,244.6 L465.5,244.2 L471.5,243.8 L477.5,243.3 L483.5,242.7 L489.5,242.1 L495.5,241.4 L501.5,240.7 L507.5,239.9 L513.5,239.0 L519.5,238.1 L525.5,237.1 L531.5,236.0 L537.5,234.8 L543.5,233.6 L549.5,232.3 L555.5,230.9 L561.5,229.5 L567.5,227.9 L573.5,226.3 L579.5,224.6 L585.5,222.8 L591.5,220.9 L597.5,218.9 L603.5,216.9 L609.5,214.7 L615.5,212.4 L621.5,210.1 L627.5,207.6 L633.5,205.1"/>
<path stroke-dasharray="5.4 5.3" stroke-dashoffset="1.2" d="M400.0,390.1 L406.1,390.0 L412.1,389.8 L418.2,389.5 L424.2,389.2 L430.3,388.9 L436.3,388.5 L442.4,388.1 L448.4,387.6 L454.5,387.0 L460.5,386.4 L466.6,385.7 L472.6,384.9 L478.7,384.1 L484.7,383.2 L490.8,382.3 L496.8,381.3 L502.9,380.2 L508.9,379.0 L515.0,377.8 L521.0,376.5 L527.1,375.1 L533.1,373.6 L539.2,372.0 L545.2,370.4 L551.3,368.6 L557.3,366.8 L563.4,364.9 L569.4,362.9 L575.5,360.8 L581.5,358.6 L587.6,356.3 L593.6,353.9 L599.7,351.3 L605.7,348.7 L611.8,346.0 L617.8,343.1 L623.9,340.1 L629.9,337.0 L636.0,333.8"/>
</g>
<g fill="#55b9a0">
<circle cx="400" cy="389" r="6.2"/>
<circle cx="550" cy="364.7" r="6.3"/>
<circle cx="641" cy="331.8" r="6.2"/>
<path d="M399.5,236.6 L406,247.9 L393,247.9Z"/>
<path d="M550.3,224.6 L557,236.2 L543.6,236.2Z"/>
<path d="M641.3,198.5 L648,210 L634.6,210Z"/>
</g>
<text x="407" y="187.1" font-size="13" font-weight="bold">PP<tspan font-size="8.5" dy="4.3">340</tspan></text>
<g stroke="#111" stroke-width="1.5" fill="none">
<rect x="393.6" y="171.8" width="278.7" height="268.0"/>
<path d="M388,171.8H393.6M388,225.3H393.6M388,278.9H393.6M388,332.4H393.6M388,386H393.6"/>
<path d="M393.6,439.8V444.6M463.25,439.8V444.6M532.9,439.8V444.6M602.55,439.8V444.6M672.3,439.8V444.6"/>
<path d="M428.4,439.8V443M498.1,439.8V443M567.7,439.8V443M637.4,439.8V443"/>
</g>
<g font-size="12.5" letter-spacing="0.35" text-anchor="end">
<text x="384" y="175.8">100</text>
<text x="384" y="229.3">80</text>
<text x="384" y="282.9">60</text>
<text x="384" y="336.4">40</text>
<text x="384" y="390.0">20</text>
<text x="384" y="443.5">0</text>
</g>
<g font-size="12.5" letter-spacing="0.35" text-anchor="middle">
<text x="394.80" y="459">1.50</text>
<text x="464.45" y="459">1.90</text>
<text x="534.10" y="459">2.30</text>
<text x="603.75" y="459">2.70</text>
<text x="673.40" y="459">3.10</text>
</g>
<text x="536" y="478" font-size="13" text-anchor="middle">Particle max. <tspan font-style="italic">z</tspan>-Reynolds number (10<tspan font-size="8" dy="-5">-4</tspan><tspan dy="5">)</tspan></text>
<text transform="translate(358.2,304) rotate(-90)" font-size="14" text-anchor="middle">Yield, C<tspan font-size="9" dy="3.5">1</tspan><tspan dy="-3.5">-C</tspan><tspan font-size="9" dy="3.5">45</tspan><tspan dy="-3.5"> or Selectivity, C</tspan><tspan font-size="9" dy="3.5">6</tspan><tspan dy="-3.5">-C</tspan><tspan font-size="9" dy="3.5">45</tspan><tspan dy="-3.5"> ( %)</tspan></text>
</g>

</svg>
</body></html>
